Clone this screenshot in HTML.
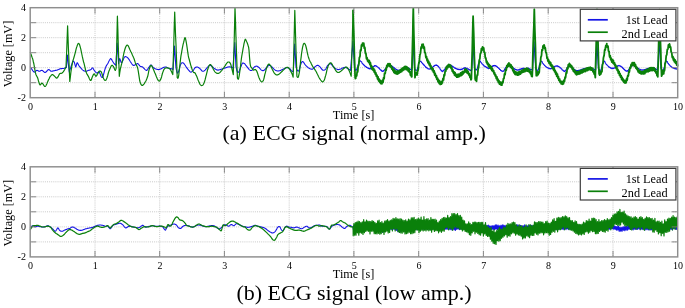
<!DOCTYPE html>
<html lang="en"><head><meta charset="utf-8"><title>ECG signal</title>
<style>html,body{margin:0;padding:0;background:#fff}svg{display:block}</style></head>
<body>
<svg width="685" height="308" viewBox="0 0 685 308" font-family="'Liberation Serif', serif" fill="#000">
<rect width="685" height="308" fill="#fff"/>
<path d="M30.2 22.7H677.7M30.2 37.7H677.7M30.2 52.7H677.7M30.2 67.7H677.7M30.2 82.7H677.7M95.0 7.7V97.7M159.7 7.7V97.7M224.4 7.7V97.7M289.2 7.7V97.7M353.9 7.7V97.7M418.7 7.7V97.7M483.4 7.7V97.7M548.2 7.7V97.7M613.0 7.7V97.7" stroke="#c4c4c4" stroke-width="0.9" stroke-dasharray="1 1.1" fill="none"/>
<g fill="none" stroke-linejoin="round" stroke-linecap="round">
<path d="M30.4 67.0L30.8 67.7L31.3 68.4L31.7 69.1L32.2 69.8L32.6 70.4L33.0 71.0L33.4 71.5L33.9 71.9L34.3 72.1L34.7 72.0L35.1 71.8L35.6 71.4L36.0 70.9L36.4 70.6L36.8 70.4L37.2 70.4L37.7 70.6L38.1 70.8L38.5 71.0L38.9 71.2L39.4 71.2L39.8 71.2L40.2 71.0L40.6 70.8L41.0 70.6L41.5 70.4L41.9 70.4L42.3 70.5L42.7 70.8L43.2 71.1L43.6 71.5L44.0 71.9L44.4 72.2L44.8 72.4L45.3 72.4L45.7 72.3L46.1 71.9L46.5 71.5L47.0 71.0L47.4 70.5L47.8 70.0L48.2 69.7L48.6 69.6L49.1 69.6L49.5 69.9L49.9 70.3L50.3 70.7L50.8 71.1L51.2 71.2L51.6 71.3L52.0 71.2L52.4 71.1L52.9 71.0L53.3 70.9L53.7 70.7L54.1 70.7L54.6 70.6L55.0 70.5L55.4 70.4L55.8 70.4L56.2 70.3L56.7 70.2L57.1 70.1L57.5 69.9L57.9 69.8L58.4 69.6L58.8 69.4L59.2 69.2L59.6 69.0L60.1 68.8L60.5 68.7L60.9 68.6L61.3 68.6L61.7 68.6L62.2 68.5L62.6 68.5L63.0 68.5L63.4 68.5L63.9 68.4L64.3 68.3L64.7 68.1L65.1 67.9L65.5 67.7L66.0 67.5L66.4 67.4L66.9 61.2L67.4 55.0L67.9 59.3L68.3 63.5L68.8 67.8L69.3 72.1L69.7 70.7L70.1 69.3L70.6 67.9L71.0 66.6L71.5 65.3L71.9 64.1L72.3 62.8L72.7 61.7L73.1 61.1L73.6 61.2L74.0 61.8L74.5 62.8L75.1 65.2L75.7 67.0L76.1 66.1L76.6 64.1L77.0 62.8L77.4 62.9L77.9 63.6L78.3 64.6L78.7 65.3L79.1 65.9L79.5 66.4L79.9 66.9L80.3 67.4L80.7 67.9L81.2 68.4L81.6 68.8L82.0 69.3L82.4 69.7L82.9 70.1L83.3 70.4L83.7 70.7L84.1 70.9L84.5 71.0L85.0 71.2L85.4 71.2L85.8 71.2L86.2 71.2L86.7 71.1L87.1 70.9L87.5 70.7L87.9 70.6L88.3 70.4L88.8 70.3L89.2 70.2L89.6 70.1L90.0 70.0L90.5 69.8L90.9 69.6L91.3 69.1L91.7 68.5L92.1 68.0L92.6 67.9L93.0 68.2L93.4 68.9L93.8 69.7L94.3 70.4L94.7 70.9L95.1 71.5L95.5 72.0L95.9 72.4L96.4 72.7L96.8 72.9L97.2 72.9L97.6 72.6L98.1 72.3L98.5 72.0L98.9 71.9L99.3 72.1L99.7 72.9L100.2 74.1L100.6 75.4L101.0 76.3L101.4 76.9L101.9 77.4L102.3 77.5L102.7 77.2L103.1 76.1L103.5 74.6L104.0 72.8L104.4 71.2L104.8 69.9L105.2 68.5L105.7 67.3L106.1 66.2L106.5 65.4L106.9 64.8L107.3 64.3L107.8 63.6L108.2 62.8L108.6 61.9L109.0 61.0L109.5 60.3L109.9 59.5L110.4 58.8L110.8 58.6L111.2 58.9L111.7 59.6L112.1 60.4L112.5 61.1L112.9 61.8L113.3 62.4L113.8 63.1L114.2 63.6L114.6 64.1L115.0 64.5L115.5 64.9L115.9 65.3L116.3 57.9L116.8 50.4L117.2 43.0L117.7 49.9L118.1 56.8L118.6 63.6L119.1 60.6L119.6 58.6L120.0 58.9L120.4 60.3L120.9 61.9L121.3 62.8L121.7 62.7L122.1 62.0L122.6 61.1L123.0 60.3L123.4 59.4L123.8 58.4L124.2 57.5L124.7 56.9L125.1 56.6L125.5 56.6L125.9 56.7L126.4 56.9L126.8 57.1L127.2 57.4L127.6 57.7L128.0 58.1L128.4 58.6L128.8 59.2L129.3 59.8L129.7 60.6L130.1 61.3L130.6 62.0L131.0 62.6L131.4 63.3L131.8 63.9L132.3 64.5L132.7 65.0L133.1 65.3L133.5 65.4L134.0 65.4L134.4 65.2L134.8 64.9L135.2 64.7L135.6 64.5L136.1 64.3L136.5 64.0L137.0 63.8L137.4 63.6L137.8 63.6L138.3 64.0L138.7 64.5L139.2 65.1L139.6 65.7L140.1 66.2L140.5 66.4L140.9 66.6L141.3 66.6L141.8 66.7L142.2 66.8L142.6 67.0L143.0 67.4L143.4 67.8L143.9 68.3L144.3 68.7L144.7 69.2L145.1 69.6L145.6 69.9L146.0 70.2L146.4 70.5L146.8 70.4L147.2 70.0L147.7 69.3L148.1 68.5L148.5 67.9L148.9 67.3L149.4 66.6L149.8 66.0L150.2 65.5L150.6 65.1L151.0 65.0L151.5 65.3L151.9 65.8L152.3 66.5L152.7 67.0L153.2 67.4L153.6 67.7L154.0 68.0L154.4 68.3L154.8 68.5L155.3 68.7L155.7 68.9L156.1 69.1L156.5 69.2L157.0 69.3L157.4 69.5L157.8 69.5L158.2 69.6L158.6 69.6L159.1 69.5L159.5 69.4L159.9 69.3L160.3 69.1L160.8 68.9L161.2 68.7L161.6 68.5L162.0 68.3L162.4 68.0L162.9 67.8L163.3 67.5L163.7 67.4L164.1 67.2L164.6 67.1L165.0 67.0L165.4 67.0L165.8 67.0L166.2 67.0L166.7 67.2L167.1 67.4L167.5 67.7L167.9 67.9L168.4 68.2L168.8 68.4L169.2 68.5L169.6 68.5L170.1 68.6L170.5 68.6L170.9 68.6L171.3 68.7L171.7 68.9L172.2 69.1L172.6 69.3L173.0 69.6L173.5 61.7L174.0 53.9L174.5 46.0L175.0 53.0L175.4 60.0L175.9 67.0L176.3 69.3L176.8 71.6L177.2 72.9L177.7 73.1L178.1 72.5L178.5 71.5L178.9 70.4L179.4 68.8L179.8 66.9L180.3 65.3L180.7 64.4L181.1 63.6L181.5 63.1L182.0 62.8L182.4 62.7L182.8 62.8L183.2 63.0L183.6 63.3L184.0 63.6L184.4 64.2L184.8 64.8L185.3 65.5L185.7 66.2L186.1 66.8L186.5 67.4L186.9 68.0L187.4 68.5L187.8 69.1L188.2 69.6L188.6 70.1L189.1 70.6L189.5 71.1L189.9 71.6L190.3 71.9L190.7 72.1L191.2 72.1L191.6 71.9L192.0 71.6L192.4 71.3L192.9 70.9L193.3 70.4L193.7 69.8L194.1 69.1L194.5 68.4L195.0 67.9L195.4 67.5L195.8 67.3L196.2 67.1L196.7 67.0L197.1 67.0L197.5 67.0L197.9 67.2L198.3 67.4L198.8 67.7L199.2 68.0L199.6 68.4L200.0 68.7L200.5 69.1L200.9 69.6L201.3 70.2L201.7 70.6L202.1 71.0L202.6 71.2L203.0 71.3L203.4 71.2L203.8 71.0L204.3 70.7L204.7 70.4L205.1 70.1L205.5 69.7L205.9 69.1L206.4 68.6L206.8 68.0L207.2 67.5L207.6 67.0L208.1 66.6L208.5 66.2L208.9 65.9L209.3 65.6L209.7 65.4L210.2 65.3L210.6 65.4L211.0 65.6L211.4 66.0L211.9 66.3L212.3 66.7L212.7 67.0L213.1 67.4L213.5 67.7L214.0 68.1L214.4 68.4L214.8 68.8L215.2 69.1L215.7 69.3L216.1 69.5L216.5 69.7L216.9 69.9L217.3 70.0L217.8 70.1L218.2 70.1L218.6 70.0L219.0 69.9L219.5 69.8L219.9 69.7L220.3 69.6L220.7 69.4L221.1 69.3L221.6 69.2L222.0 69.0L222.4 68.9L222.8 68.7L223.3 68.6L223.7 68.4L224.1 68.3L224.5 68.2L224.9 68.0L225.4 67.9L225.8 67.7L226.2 67.6L226.6 67.4L227.1 67.2L227.5 67.1L227.9 67.0L228.3 67.0L228.8 66.9L229.2 66.9L229.6 66.9L230.0 67.0L230.4 67.0L230.9 67.1L231.3 67.2L231.7 67.4L232.1 67.6L232.6 67.7L233.0 67.9L233.4 61.6L233.9 55.2L234.4 48.9L234.8 42.6L235.4 54.8L236.0 67.0L236.5 68.9L236.9 70.8L237.4 72.1L237.8 72.5L238.2 72.3L238.6 71.9L239.1 71.2L239.5 70.4L239.9 69.3L240.3 68.1L240.7 67.0L241.2 66.0L241.6 64.9L242.0 63.9L242.4 63.3L242.8 63.0L243.2 63.0L243.6 63.1L244.1 63.4L244.5 63.6L244.9 64.0L245.3 64.5L245.7 65.1L246.1 65.6L246.5 66.2L246.9 66.7L247.3 67.2L247.7 67.7L248.1 68.2L248.5 68.7L248.9 69.2L249.2 69.6L249.6 69.9L250.1 70.2L250.5 70.4L250.9 70.5L251.3 70.5L251.8 70.4L252.2 70.1L252.6 69.5L253.0 68.8L253.4 68.1L253.9 67.5L254.3 67.0L254.7 66.7L255.1 66.5L255.6 66.3L256.0 66.2L256.4 66.1L256.8 66.2L257.2 66.3L257.7 66.5L258.1 66.8L258.5 67.2L258.9 67.5L259.4 67.9L259.8 68.3L260.2 68.8L260.6 69.3L261.0 69.7L261.5 70.1L261.9 70.4L262.3 70.5L262.7 70.6L263.2 70.6L263.6 70.5L264.0 70.3L264.4 70.1L264.8 69.7L265.3 69.2L265.7 68.6L266.1 68.0L266.5 67.5L267.0 67.0L267.4 66.6L267.8 66.2L268.2 65.9L268.6 65.6L269.1 65.4L269.5 65.3L269.9 65.4L270.3 65.6L270.8 65.9L271.2 66.3L271.6 66.7L272.0 67.0L272.4 67.4L272.9 67.9L273.3 68.3L273.7 68.8L274.1 69.2L274.6 69.6L275.0 69.9L275.4 70.2L275.8 70.4L276.2 70.6L276.7 70.8L277.1 70.9L277.5 71.0L277.9 71.0L278.4 71.0L278.8 70.9L279.2 70.8L279.6 70.7L280.1 70.6L280.5 70.4L280.9 70.2L281.3 70.0L281.7 69.8L282.2 69.6L282.6 69.4L283.0 69.2L283.4 68.9L283.9 68.7L284.3 68.6L284.7 68.4L285.1 68.2L285.5 68.0L286.0 67.8L286.4 67.7L286.8 67.6L287.2 67.5L287.7 67.6L288.1 67.7L288.5 67.9L288.9 68.1L289.3 68.4L289.8 68.7L290.2 69.2L290.6 69.7L291.1 70.3L291.5 70.9L292.0 71.2L292.4 71.4L292.9 71.3L293.3 71.2L293.8 62.2L294.2 53.1L294.7 44.0L295.1 51.7L295.6 59.4L296.0 67.0L296.5 68.3L296.9 69.5L297.4 70.4L297.8 70.9L298.2 71.1L298.6 70.9L299.1 70.4L299.5 69.0L300.0 67.1L300.4 65.3L300.9 64.0L301.3 62.8L301.8 62.0L302.3 61.6L302.8 61.6L303.3 62.0L303.7 62.4L304.1 63.1L304.5 63.9L305.0 64.5L305.4 65.0L305.8 65.5L306.2 65.9L306.7 66.3L307.1 66.7L307.5 67.0L307.9 67.4L308.3 67.7L308.8 68.0L309.2 68.3L309.6 68.5L310.0 68.7L310.5 68.9L310.9 69.0L311.3 69.1L311.7 69.2L312.1 69.2L312.6 69.1L313.0 68.8L313.4 68.4L313.8 68.0L314.3 67.5L314.7 67.1L315.1 66.7L315.5 66.4L315.9 66.1L316.4 65.8L316.8 65.5L317.2 65.4L317.6 65.3L318.1 65.4L318.5 65.6L318.9 65.9L319.3 66.3L319.7 66.6L320.2 67.0L320.6 67.5L321.0 68.1L321.4 68.7L321.9 69.3L322.3 69.8L322.7 70.1L323.1 70.2L323.5 70.3L324.0 70.3L324.4 70.1L324.8 69.9L325.2 69.6L325.7 69.0L326.1 68.3L326.5 67.5L326.9 66.7L327.3 65.9L327.8 65.3L328.2 64.9L328.6 64.4L329.0 64.1L329.5 63.8L329.9 63.7L330.3 63.6L330.7 63.8L331.1 64.2L331.6 64.7L332.0 65.2L332.4 65.7L332.8 66.2L333.3 66.6L333.7 67.0L334.1 67.4L334.5 67.7L334.9 68.1L335.4 68.4L335.8 68.7L336.2 68.9L336.6 69.1L337.1 69.3L337.5 69.5L337.9 69.6L338.3 69.6L338.8 69.5L339.2 69.5L339.6 69.3L340.0 69.2L340.4 69.1L340.9 68.9L341.3 68.7L341.7 68.5L342.1 68.2L342.6 68.0L343.0 67.9L343.4 67.7L343.8 67.6L344.2 67.5L344.7 67.4L345.1 67.3L345.5 67.4L345.9 67.5L346.4 67.7L346.8 67.9L347.2 68.2L347.6 68.4L348.0 68.7L348.5 69.0L348.9 69.3L349.3 69.5L349.7 69.8L350.2 70.1L350.6 70.4L351.0 64.6L351.5 58.9L352.0 53.1L352.5 47.4L352.9 41.6L352.9 41.6L353.2 46.0L353.4 50.6L353.7 54.5L354.0 58.9L354.2 63.6L354.5 68.2L354.7 68.7L355.0 69.3L355.2 69.8L355.4 70.3L355.6 70.3L355.8 70.1L356.1 69.9L356.3 69.9L356.5 70.1L356.7 69.8L356.9 69.0L357.1 68.2L357.4 67.6L357.6 67.2L357.8 66.4L358.0 65.2L358.3 64.2L358.5 63.7L358.7 63.2L358.9 62.4L359.2 61.6L359.4 60.9L359.6 60.9L359.8 61.0L360.1 61.0L360.3 60.7L360.5 60.7L360.7 61.1L361.0 61.6L361.2 61.7L361.4 61.8L361.7 62.0L361.9 62.7L362.1 63.3L362.4 63.3L362.6 63.4L362.8 63.7L363.0 64.2L363.2 64.6L363.4 64.7L363.7 64.6L363.9 64.7L364.1 65.3L364.3 65.8L364.5 65.7L364.7 65.6L364.9 65.8L365.1 66.2L365.3 66.6L365.6 66.7L365.8 66.6L366.0 66.6L366.2 66.9L366.4 67.4L366.6 67.5L366.8 67.3L367.0 67.2L367.2 67.5L367.5 68.0L367.7 68.1L367.9 68.0L368.1 67.9L368.3 68.0L368.5 68.5L368.7 68.6L368.9 68.6L369.1 68.4L369.4 68.4L369.6 68.9L369.8 69.0L370.0 68.8L370.2 68.5L370.4 68.4L370.6 68.5L370.8 68.8L371.0 68.5L371.3 68.1L371.5 67.7L371.7 67.7L371.9 67.8L372.1 67.7L372.3 67.3L372.5 66.9L372.7 66.8L372.9 67.1L373.2 66.9L373.4 66.6L373.6 66.2L373.8 66.2L374.0 66.3L374.2 66.4L374.4 65.9L374.6 65.6L374.8 65.6L375.1 65.7L375.3 66.0L375.5 65.9L375.7 65.5L375.9 65.5L376.1 65.9L376.3 66.2L376.5 66.4L376.7 66.2L377.0 66.2L377.2 66.6L377.4 66.9L377.6 67.0L377.8 67.1L378.0 67.0L378.2 67.3L378.4 67.7L378.6 68.1L378.9 68.2L379.1 68.0L379.3 68.2L379.5 69.0L379.7 69.2L379.9 69.2L380.1 69.2L380.3 69.4L380.5 69.8L380.8 70.2L381.0 70.4L381.2 70.1L381.4 70.2L381.6 70.7L381.8 71.1L382.0 71.3L382.2 71.0L382.4 70.9L382.7 71.1L382.9 71.5L383.1 71.5L383.3 71.2L383.5 70.6L383.7 70.7L383.9 70.6L384.1 70.5L384.3 70.0L384.6 69.6L384.8 69.3L385.0 69.2L385.2 69.3L385.4 68.8L385.6 68.3L385.8 68.0L386.0 67.9L386.2 67.8L386.5 67.4L386.7 66.7L386.9 66.3L387.1 66.2L387.3 66.1L387.5 66.0L387.7 65.4L387.9 65.1L388.2 65.1L388.4 65.3L388.6 65.3L388.8 65.1L389.0 64.8L389.2 64.9L389.4 65.2L389.6 65.3L389.8 65.2L390.1 65.0L390.3 65.1L390.5 65.4L390.7 65.7L390.9 65.8L391.1 65.5L391.3 65.5L391.5 65.8L391.7 66.3L392.0 66.5L392.2 66.2L392.4 66.2L392.6 66.6L392.8 67.0L393.0 67.3L393.2 67.2L393.4 67.1L393.6 67.3L393.9 67.8L394.1 68.1L394.3 68.0L394.5 67.9L394.7 68.2L394.9 68.8L395.1 69.1L395.3 68.9L395.5 68.8L395.8 69.0L396.0 69.3L396.2 69.8L396.4 69.8L396.6 69.5L396.8 69.6L397.0 70.0L397.2 70.4L397.4 70.4L397.7 70.2L397.9 70.0L398.1 70.2L398.3 70.7L398.5 70.6L398.7 70.5L398.9 70.2L399.1 70.4L399.3 70.6L399.6 70.6L399.8 70.3L400.0 69.9L400.2 70.0L400.4 70.3L400.6 70.3L400.8 70.0L401.0 69.7L401.2 69.6L401.5 69.7L401.7 69.8L401.9 69.6L402.1 69.1L402.3 68.9L402.5 69.0L402.7 69.2L402.9 69.0L403.1 68.6L403.4 68.4L403.6 68.4L403.8 68.7L404.0 68.5L404.2 68.2L404.4 68.0L404.6 67.9L404.8 68.2L405.0 68.3L405.3 68.1L405.5 67.7L405.7 67.7L405.9 67.9L406.1 68.0L406.3 67.9L406.5 67.5L406.7 67.4L406.9 67.7L407.2 68.0L407.4 67.8L407.6 67.6L407.8 67.5L408.0 67.8L408.2 68.1L408.4 68.1L408.6 68.0L408.8 68.0L409.1 68.3L409.3 68.7L409.5 69.0L409.7 68.8L409.9 68.9L410.1 69.0L410.3 69.5L410.5 69.8L410.7 69.7L411.0 69.3L411.3 69.7L411.6 69.9L411.9 69.4L412.2 62.4L412.5 55.8L412.8 49.1L413.1 41.8L413.3 46.1L413.6 50.6L413.8 55.2L414.0 59.4L414.2 63.4L414.5 67.7L414.7 68.6L415.0 69.5L415.2 69.6L415.5 69.9L415.7 70.1L415.9 70.6L416.1 70.5L416.3 70.3L416.5 70.0L416.7 70.0L417.0 70.1L417.2 69.8L417.4 69.0L417.6 68.1L417.8 67.4L418.0 66.8L418.2 66.2L418.4 65.1L418.6 64.1L418.9 63.4L419.1 63.1L419.3 62.8L419.5 62.1L419.8 61.4L420.0 61.2L420.2 61.3L420.4 61.5L420.6 61.2L420.8 61.2L421.0 61.4L421.3 62.1L421.5 62.5L421.7 62.6L421.9 62.7L422.1 62.9L422.4 63.4L422.6 63.9L422.8 63.9L423.1 63.8L423.3 64.2L423.5 64.7L423.8 65.1L424.0 64.9L424.3 65.0L424.5 65.5L424.7 66.0L424.9 66.3L425.1 66.3L425.3 66.2L425.5 66.5L425.7 67.0L425.9 67.4L426.2 67.4L426.4 67.3L426.6 67.4L426.8 68.0L427.0 68.2L427.2 68.3L427.4 68.1L427.6 68.3L427.8 68.5L428.1 69.0L428.3 68.9L428.5 68.7L428.7 68.7L428.9 69.0L429.1 69.2L429.3 69.2L429.5 69.0L429.7 68.7L430.0 68.8L430.2 69.1L430.4 68.9L430.6 68.6L430.8 68.2L431.0 68.1L431.2 68.4L431.4 68.4L431.6 68.1L431.9 67.7L432.1 67.5L432.3 67.6L432.5 67.6L432.7 67.2L432.9 66.8L433.1 66.5L433.3 66.6L433.5 66.6L433.8 66.3L434.0 65.9L434.2 65.6L434.4 65.6L434.6 65.8L434.8 65.6L435.0 65.4L435.2 65.1L435.4 65.2L435.7 65.4L435.9 65.4L436.1 65.1L436.3 64.9L436.5 65.0L436.7 65.5L436.9 65.5L437.1 65.5L437.3 65.4L437.6 65.6L437.8 66.1L438.0 66.5L438.2 66.5L438.4 66.3L438.6 66.6L438.8 67.1L439.0 67.5L439.2 67.8L439.5 67.8L439.7 67.8L439.9 68.4L440.1 69.1L440.3 69.3L440.5 69.5L440.7 69.5L440.9 70.1L441.1 70.6L441.4 71.0L441.6 70.9L441.8 70.9L442.0 71.0L442.2 71.4L442.4 71.6L442.6 71.2L442.8 70.9L443.0 70.8L443.3 70.8L443.5 70.9L443.7 70.6L443.9 70.0L444.1 69.7L444.3 69.7L444.5 69.9L444.7 69.5L444.9 68.9L445.2 68.6L445.4 68.4L445.6 68.4L445.8 68.1L446.0 67.6L446.2 66.9L446.4 66.8L446.6 66.8L446.8 66.6L447.1 66.1L447.3 65.8L447.5 65.7L447.7 65.8L447.9 65.8L448.1 65.6L448.3 65.1L448.5 65.0L448.8 65.1L449.0 65.4L449.2 65.2L449.4 64.9L449.6 64.7L449.8 65.0L450.0 65.2L450.2 65.3L450.4 65.2L450.7 65.1L450.9 65.2L451.1 65.8L451.3 66.0L451.5 65.8L451.7 65.6L451.9 65.9L452.1 66.3L452.3 66.6L452.6 66.4L452.8 66.3L453.0 66.4L453.2 67.0L453.4 67.3L453.6 67.2L453.8 67.1L454.0 67.2L454.2 67.6L454.5 67.9L454.7 68.1L454.9 67.8L455.1 67.8L455.3 68.1L455.5 68.5L455.7 68.6L455.9 68.3L456.1 68.4L456.4 68.7L456.6 69.0L456.8 69.1L457.0 68.9L457.2 68.8L457.4 68.8L457.6 69.4L457.8 69.5L458.0 69.3L458.3 69.1L458.5 69.2L458.7 69.6L458.9 69.7L459.1 69.5L459.3 69.4L459.5 69.3L459.7 69.6L459.9 69.7L460.2 69.7L460.4 69.5L460.6 69.2L460.8 69.4L461.0 69.7L461.2 69.6L461.4 69.3L461.6 69.0L461.8 69.1L462.1 69.4L462.3 69.3L462.5 69.0L462.7 68.7L462.9 68.5L463.1 68.7L463.3 68.8L463.5 68.6L463.7 68.1L464.0 67.9L464.2 68.1L464.4 68.1L464.6 68.2L464.8 67.7L465.0 67.6L465.3 67.8L465.5 68.3L465.7 68.1L465.9 67.9L466.2 68.0L466.4 68.4L466.6 68.6L466.8 68.4L467.1 68.3L467.3 68.4L467.5 68.9L467.7 69.1L468.0 69.0L468.2 68.9L468.4 68.9L468.6 69.4L468.8 69.7L469.0 69.6L469.2 69.6L469.4 69.5L469.6 70.0L469.9 70.1L470.1 70.3L470.3 70.0L470.5 70.0L470.7 70.2L470.9 70.6L471.1 70.5L471.3 70.2L471.5 70.1L471.8 70.2L472.1 63.9L472.3 56.8L472.6 49.5L472.9 43.0L473.2 47.5L473.4 51.4L473.7 55.2L474.0 59.5L474.2 63.9L474.5 68.1L474.7 68.3L475.0 68.6L475.2 69.3L475.5 69.8L475.7 69.6L475.9 69.5L476.1 69.6L476.3 69.9L476.5 69.9L476.7 69.6L477.0 68.9L477.2 68.4L477.4 68.0L477.6 67.5L477.8 66.3L478.1 65.0L478.3 64.3L478.5 63.8L478.7 63.3L479.0 62.4L479.2 61.7L479.4 61.3L479.6 61.5L479.9 61.4L480.1 61.2L480.3 61.1L480.5 61.6L480.8 62.2L481.0 62.6L481.2 62.7L481.5 62.8L481.7 63.3L481.9 63.8L482.2 64.0L482.4 64.1L482.6 64.2L482.9 64.6L483.1 65.1L483.3 65.2L483.6 65.1L483.8 65.4L484.0 65.8L484.2 66.2L484.4 66.0L484.6 66.0L484.8 66.0L485.1 66.6L485.3 66.8L485.5 66.8L485.7 66.6L485.9 66.7L486.1 67.0L486.3 67.5L486.5 67.6L486.7 67.3L487.0 67.3L487.2 67.6L487.4 68.1L487.6 68.2L487.8 68.1L488.0 67.9L488.2 68.2L488.4 68.5L488.6 68.7L488.9 68.5L489.1 68.0L489.3 68.0L489.5 68.2L489.7 68.2L489.9 68.1L490.1 67.5L490.3 67.3L490.5 67.4L490.8 67.5L491.0 67.3L491.2 66.9L491.4 66.7L491.6 66.8L491.8 66.9L492.0 66.7L492.2 66.4L492.4 65.9L492.7 66.1L492.9 66.3L493.1 66.1L493.3 65.7L493.5 65.5L493.7 65.5L493.9 65.8L494.1 65.9L494.3 65.8L494.6 65.5L494.8 65.4L495.0 65.7L495.2 66.0L495.4 65.9L495.6 65.7L495.8 65.6L496.0 66.2L496.2 66.5L496.5 66.5L496.7 66.3L496.9 66.3L497.1 66.7L497.3 67.1L497.5 67.4L497.7 67.3L497.9 67.3L498.2 67.6L498.4 68.2L498.6 68.4L498.8 68.4L499.0 68.3L499.2 68.6L499.4 69.1L499.6 69.4L499.8 69.4L500.1 69.5L500.3 69.6L500.5 70.1L500.7 70.5L500.9 70.6L501.1 70.5L501.3 70.5L501.5 70.9L501.8 71.2L502.0 71.3L502.2 71.0L502.4 71.1L502.6 71.4L502.9 71.6L503.1 71.5L503.3 71.1L503.5 70.9L503.7 71.0L503.9 71.0L504.1 70.7L504.3 70.1L504.5 69.4L504.7 69.1L504.9 69.0L505.1 68.8L505.3 68.3L505.5 67.7L505.8 67.4L506.0 67.3L506.2 67.3L506.4 66.9L506.6 66.3L506.8 66.0L507.0 66.2L507.2 66.1L507.4 65.9L507.7 65.5L507.9 65.1L508.1 65.3L508.3 65.5L508.5 65.4L508.7 65.3L508.9 65.1L509.1 65.4L509.3 65.6L509.6 65.9L509.8 65.8L510.0 65.6L510.2 65.7L510.4 66.2L510.6 66.4L510.8 66.4L511.0 66.2L511.2 66.4L511.5 66.8L511.7 67.1L511.9 67.2L512.1 66.9L512.3 67.0L512.5 67.5L512.7 67.8L512.9 67.9L513.1 67.8L513.4 67.7L513.6 68.0L513.8 68.5L514.0 68.7L514.2 68.5L514.4 68.5L514.6 68.9L514.8 69.3L515.0 69.6L515.3 69.3L515.5 69.3L515.7 69.3L515.9 69.6L516.1 70.0L516.3 69.9L516.5 69.6L516.7 69.8L516.9 70.1L517.2 70.3L517.4 70.3L517.6 69.9L517.8 69.8L518.0 70.0L518.2 70.3L518.4 70.2L518.6 70.0L518.8 69.6L519.1 69.7L519.3 69.9L519.5 69.9L519.7 69.5L519.9 69.1L520.1 69.2L520.3 69.3L520.5 69.4L520.7 69.2L521.0 68.9L521.2 68.6L521.4 68.9L521.6 69.1L521.8 68.8L522.0 68.4L522.2 68.3L522.4 68.6L522.6 68.7L522.9 68.6L523.1 68.3L523.3 68.1L523.5 68.2L523.7 68.6L523.9 68.7L524.1 68.3L524.3 68.3L524.5 68.4L524.8 68.7L525.0 68.8L525.2 68.7L525.4 68.5L525.6 68.4L525.8 69.0L526.0 69.0L526.2 68.7L526.4 68.5L526.7 68.4L526.9 68.6L527.1 68.8L527.3 68.5L527.5 68.2L527.7 68.1L527.9 68.4L528.1 68.7L528.3 68.5L528.6 68.4L528.8 68.2L529.0 68.6L529.2 68.9L529.4 69.1L529.6 68.8L529.8 68.8L530.0 69.0L530.2 69.4L530.5 69.6L530.7 69.5L530.9 69.3L531.1 69.4L531.3 69.7L531.5 70.0L531.7 69.9L531.9 69.6L532.1 69.7L532.4 70.1L532.6 70.4L532.8 65.5L533.1 60.6L533.3 55.9L533.6 51.5L533.8 46.8L534.1 41.8L534.3 46.2L534.6 50.9L534.8 55.5L535.1 59.6L535.4 63.8L535.6 68.3L535.8 69.0L536.1 69.3L536.3 69.4L536.5 69.7L536.7 70.1L537.0 70.6L537.2 70.5L537.4 70.3L537.6 70.0L537.8 70.1L538.0 70.1L538.2 69.9L538.4 69.0L538.6 68.5L538.9 67.7L539.1 67.1L539.3 66.0L539.5 64.4L539.8 63.5L540.0 62.8L540.2 62.6L540.5 61.9L540.7 61.4L540.9 61.0L541.1 61.3L541.4 61.3L541.6 61.4L541.8 61.3L542.0 61.5L542.2 62.1L542.4 62.8L542.6 63.1L542.8 63.3L543.0 63.4L543.3 63.9L543.5 64.4L543.8 64.6L544.0 64.6L544.2 64.8L544.5 65.4L544.7 65.7L544.9 65.8L545.2 65.7L545.4 66.1L545.6 66.6L545.9 66.7L546.1 66.8L546.4 66.7L546.6 67.0L546.8 67.6L547.1 67.5L547.3 67.5L547.5 67.5L547.8 68.0L548.0 68.2L548.2 68.2L548.4 67.9L548.6 68.1L548.8 68.3L549.0 68.7L549.2 68.6L549.5 68.5L549.7 68.4L549.9 68.7L550.1 68.9L550.3 69.0L550.5 68.6L550.7 68.4L550.9 68.5L551.1 68.7L551.4 68.8L551.6 68.5L551.8 68.2L552.0 68.1L552.2 68.3L552.4 68.4L552.6 68.0L552.8 67.6L553.0 67.5L553.3 67.8L553.5 67.8L553.7 67.5L553.9 67.0L554.1 66.7L554.3 66.9L554.5 67.0L554.7 66.7L554.9 66.3L555.2 66.1L555.4 66.1L555.6 66.3L555.8 66.3L556.0 66.0L556.2 65.7L556.4 65.8L556.6 66.1L556.8 66.3L557.1 66.1L557.3 65.7L557.5 65.8L557.7 66.3L557.9 66.4L558.1 66.4L558.3 66.2L558.5 66.3L558.8 66.8L559.0 67.0L559.2 67.0L559.4 66.8L559.6 67.0L559.8 67.2L560.0 67.7L560.2 68.0L560.4 67.7L560.7 67.8L560.9 68.1L561.1 68.7L561.3 68.9L561.5 68.9L561.7 68.9L561.9 69.2L562.1 69.8L562.3 70.1L562.6 70.2L562.8 70.0L563.0 70.2L563.2 70.6L563.4 71.0L563.6 71.1L563.8 70.9L564.0 70.8L564.2 71.2L564.4 71.5L564.6 71.6L564.8 71.2L565.0 70.9L565.2 70.8L565.4 71.0L565.7 70.8L565.9 70.1L566.1 69.5L566.3 69.2L566.5 69.1L566.8 68.8L567.0 68.2L567.2 67.6L567.4 67.3L567.6 67.6L567.9 67.2L568.1 66.7L568.3 66.2L568.5 66.0L568.7 66.0L569.0 65.9L569.2 65.5L569.4 65.1L569.7 65.2L570.0 65.7L570.2 65.5L570.4 65.3L570.6 65.5L570.8 65.8L571.0 66.2L571.2 66.5L571.4 66.3L571.6 66.3L571.8 66.7L572.0 67.1L572.2 67.5L572.5 67.6L572.7 67.6L572.9 68.0L573.1 68.5L573.3 68.8L573.6 68.8L573.8 68.9L574.0 69.3L574.2 69.7L574.4 70.1L574.6 70.0L574.9 69.7L575.1 70.0L575.3 70.2L575.5 70.6L575.7 70.5L575.9 70.3L576.1 70.3L576.3 70.7L576.5 70.9L576.8 70.9L577.0 70.7L577.2 70.5L577.4 70.7L577.6 71.0L577.8 70.9L578.0 70.7L578.2 70.4L578.4 70.4L578.7 70.7L578.9 70.7L579.1 70.5L579.3 70.1L579.5 70.2L579.7 70.4L579.9 70.6L580.1 70.3L580.3 69.9L580.6 69.9L580.8 70.0L581.0 70.1L581.2 69.9L581.4 69.6L581.6 69.3L581.8 69.5L582.0 69.6L582.2 69.6L582.5 69.2L582.7 69.1L582.9 69.0L583.1 69.4L583.3 69.3L583.5 68.9L583.7 68.6L583.9 68.6L584.1 68.9L584.4 68.9L584.6 68.6L584.8 68.4L585.0 68.3L585.2 68.7L585.4 68.8L585.6 68.6L585.8 68.2L586.0 68.3L586.3 68.4L586.5 68.7L586.7 68.6L586.9 68.1L587.1 68.1L587.3 68.2L587.5 68.5L587.7 68.3L587.9 68.0L588.2 67.8L588.4 67.9L588.6 68.2L588.8 68.1L589.0 67.8L589.2 67.7L589.4 67.7L589.6 68.0L589.8 68.2L590.1 67.9L590.3 67.7L590.5 67.8L590.7 68.0L590.9 68.3L591.1 68.3L591.3 67.9L591.5 68.0L591.7 68.4L592.0 68.7L592.2 68.6L592.4 68.4L592.6 68.4L592.8 68.6L593.0 69.0L593.2 69.2L593.4 69.0L593.6 68.9L593.9 69.2L594.1 69.6L594.3 69.6L594.5 69.6L594.8 69.5L595.1 70.0L595.4 70.2L595.7 70.0L596.0 62.8L596.3 56.2L596.6 49.3L596.9 41.8L597.1 46.2L597.4 51.0L597.6 55.4L597.9 59.5L598.1 63.7L598.4 68.6L598.6 69.1L598.8 69.3L599.1 69.3L599.3 69.8L599.5 70.3L599.7 70.7L599.9 70.4L600.2 70.2L600.4 70.2L600.6 70.2L600.8 70.1L601.0 69.8L601.2 68.9L601.4 68.5L601.6 67.8L601.9 67.1L602.1 65.9L602.3 64.5L602.5 63.5L602.8 62.8L603.0 62.5L603.2 61.8L603.4 61.3L603.7 61.1L603.9 61.2L604.1 61.3L604.3 61.4L604.5 61.2L604.8 61.5L605.0 62.2L605.2 62.8L605.4 63.1L605.6 63.2L605.8 63.4L606.0 64.0L606.3 64.5L606.5 64.6L606.8 64.6L607.0 64.9L607.2 65.4L607.5 65.7L607.7 65.7L607.9 65.7L608.2 66.2L608.4 66.6L608.6 66.9L608.9 66.6L609.1 66.8L609.4 67.2L609.6 67.5L609.8 67.6L610.1 67.4L610.3 67.5L610.5 68.1L610.8 68.3L611.0 68.1L611.2 67.9L611.4 68.1L611.6 68.3L611.8 68.6L612.0 68.5L612.2 68.1L612.4 68.2L612.7 68.4L612.9 68.6L613.1 68.5L613.3 68.2L613.5 68.0L613.7 68.2L613.9 68.4L614.1 68.2L614.3 67.9L614.6 67.7L614.8 67.7L615.0 68.0L615.2 67.9L615.4 67.5L615.6 67.1L615.8 67.0L616.0 67.2L616.2 67.2L616.5 66.9L616.7 66.4L616.9 66.2L617.1 66.3L617.3 66.4L617.5 66.0L617.7 65.7L617.9 65.6L618.1 65.8L618.4 65.9L618.6 65.7L618.8 65.5L619.0 65.3L619.2 65.7L619.4 65.9L619.6 66.0L619.8 65.7L620.0 65.7L620.3 65.9L620.5 66.3L620.7 66.5L620.9 66.3L621.1 66.3L621.3 66.4L621.5 66.8L621.7 67.2L621.9 67.1L622.2 67.0L622.4 67.3L622.6 67.8L622.8 68.3L623.0 68.4L623.2 68.2L623.4 68.3L623.6 68.7L623.8 69.3L624.1 69.5L624.3 69.3L624.5 69.5L624.7 69.8L624.9 70.4L625.1 70.5L625.3 70.4L625.5 70.3L625.7 70.7L625.9 71.1L626.1 71.2L626.4 71.0L626.6 70.8L626.8 70.8L627.0 71.1L627.2 71.3L627.4 71.0L627.6 70.7L627.8 70.5L628.0 70.5L628.2 70.6L628.4 70.2L628.6 69.7L628.9 69.2L629.1 69.1L629.3 69.0L629.5 68.7L629.7 68.0L630.0 67.6L630.2 67.6L630.4 67.6L630.6 67.3L630.8 66.9L631.0 66.4L631.2 66.2L631.4 66.3L631.7 66.1L631.9 65.8L632.1 65.3L632.3 65.4L632.5 65.3L632.7 65.6L632.9 65.4L633.1 65.1L633.3 65.0L633.6 65.5L633.8 65.7L634.0 65.7L634.2 65.6L634.4 65.6L634.6 66.0L634.8 66.3L635.0 66.4L635.2 66.3L635.5 66.2L635.7 66.5L635.9 66.9L636.1 67.1L636.3 67.0L636.5 66.9L636.7 67.2L636.9 67.6L637.1 67.8L637.4 67.7L637.6 67.7L637.8 67.9L638.0 68.2L638.2 68.6L638.4 68.6L638.6 68.5L638.8 68.5L639.0 69.0L639.3 69.3L639.5 69.3L639.7 69.3L639.9 69.2L640.1 69.4L640.3 69.9L640.5 70.0L640.7 69.8L640.9 69.6L641.2 69.8L641.4 70.2L641.6 70.2L641.8 70.0L642.0 69.8L642.2 69.8L642.4 70.2L642.6 70.3L642.8 70.1L643.1 69.8L643.3 69.9L643.5 70.0L643.7 70.2L643.9 70.1L644.1 69.7L644.3 69.5L644.5 69.7L644.7 70.0L645.0 69.7L645.2 69.4L645.4 69.3L645.6 69.4L645.8 69.6L646.0 69.5L646.2 69.2L646.4 68.9L646.6 69.0L646.9 69.1L647.1 69.2L647.3 68.7L647.5 68.5L647.7 68.4L647.9 68.7L648.1 68.9L648.3 68.7L648.5 68.4L648.8 68.4L649.0 68.5L649.2 68.7L649.4 68.7L649.6 68.3L649.8 68.2L650.0 68.3L650.2 68.6L650.4 68.6L650.7 68.1L650.9 68.0L651.1 68.1L651.3 68.3L651.5 68.3L651.7 68.0L651.9 67.7L652.1 67.8L652.3 68.0L652.6 68.1L652.8 67.9L653.0 67.6L653.2 67.7L653.4 68.1L653.6 68.4L653.8 68.1L654.0 68.0L654.2 68.0L654.5 68.4L654.7 68.7L654.9 68.6L655.1 68.5L655.3 68.4L655.5 68.9L655.7 69.1L656.0 69.2L656.2 69.0L656.4 69.2L656.6 69.5L656.8 69.9L657.1 69.9L657.3 69.8L657.5 69.8L657.7 66.6L658.0 63.4L658.2 59.7L658.4 55.8L658.7 52.3L658.9 49.2L659.1 45.8L659.4 42.0L659.6 46.2L659.9 50.8L660.1 55.5L660.4 59.8L660.6 63.8L660.9 68.2L661.1 68.9L661.3 69.4L661.6 69.5L661.8 69.8L662.0 70.0L662.2 70.5L662.4 70.6L662.7 70.5L662.9 70.0L663.1 70.0L663.3 70.0L663.5 69.9L663.7 69.3L663.9 68.5L664.1 67.6L664.4 67.0L664.6 66.0L664.8 64.7L665.0 63.5L665.3 62.6L665.5 62.4L665.7 62.0L665.9 61.5L666.2 61.0L666.4 61.0L666.6 61.2L666.8 61.6L667.0 61.5L667.3 61.5L667.5 61.9L667.7 62.7L667.9 63.2L668.1 63.5L668.3 63.5L668.5 63.6L668.8 64.4L669.0 64.7L669.3 64.8L669.5 64.7L669.7 65.2L670.0 65.7L670.2 66.1L670.4 65.9L670.7 66.0L670.9 66.5L671.1 66.8L671.4 66.9L671.6 66.8L671.9 66.9L672.1 67.4L672.3 67.7L672.6 67.7L672.8 67.5L673.0 67.7L673.3 68.2L673.5 68.3L673.7 68.1L673.9 68.0L674.1 68.1L674.3 68.4L674.5 68.7L674.7 68.6L674.9 68.4L675.2 68.4L675.4 68.7L675.6 69.0L675.8 69.0L676.0 68.6L676.2 68.6L676.4 68.9L676.6 69.1L676.8 69.2L677.0 68.9L677.2 68.8L677.4 68.8L677.6 69.2" stroke="#1414e6" stroke-width="1.1"/>
<path d="M30.4 52.5L30.8 53.8L31.3 55.0L31.7 56.2L32.1 57.4L32.6 58.7L33.0 60.2L33.4 62.0L33.9 64.0L34.3 66.3L34.7 68.8L35.1 71.1L35.5 72.9L35.9 74.4L36.4 75.4L36.8 76.2L37.2 77.0L37.7 78.0L38.1 79.4L38.5 81.0L39.0 82.6L39.4 83.9L39.9 84.8L40.3 84.9L40.7 84.5L41.1 83.9L41.5 83.3L41.9 83.1L42.3 83.3L42.7 83.7L43.2 84.3L43.6 85.0L44.0 85.7L44.4 86.2L44.8 86.5L45.3 86.5L45.7 86.0L46.1 85.3L46.5 84.4L47.0 83.4L47.4 82.3L47.8 81.4L48.2 80.5L48.6 79.6L49.1 78.7L49.5 77.8L49.9 77.0L50.3 76.3L50.8 75.8L51.2 75.3L51.7 74.9L52.1 74.7L52.5 74.6L52.9 74.8L53.3 75.1L53.8 75.5L54.2 75.9L54.6 76.3L55.0 76.7L55.4 77.1L55.8 77.6L56.2 77.9L56.7 78.1L57.1 78.0L57.5 77.6L57.9 76.9L58.4 76.1L58.8 75.2L59.2 74.4L59.6 73.8L60.1 73.5L60.5 73.3L60.9 73.3L61.3 73.3L61.7 73.2L62.2 72.9L62.6 72.5L63.0 72.1L63.4 71.5L63.9 70.9L64.3 70.2L64.7 69.6L65.1 68.8L65.6 67.9L66.0 67.0L66.6 53.3L67.1 39.5L67.6 25.8L68.0 36.9L68.4 48.0L68.9 59.2L69.3 70.3L69.8 81.4L70.4 76.6L70.9 72.1L71.4 69.0L71.8 66.1L72.3 63.6L72.7 61.7L73.1 60.1L73.6 58.6L74.0 57.3L74.4 55.9L74.8 54.4L75.3 52.6L75.7 50.8L76.1 49.1L76.5 47.6L77.0 46.3L77.4 45.1L77.8 44.1L78.3 43.5L78.7 43.4L79.1 43.8L79.6 44.8L80.0 46.1L80.4 47.6L80.8 49.2L81.2 51.1L81.6 53.0L82.0 55.0L82.4 56.9L82.8 58.6L83.2 60.3L83.6 62.0L84.1 63.7L84.5 65.3L84.9 67.1L85.3 69.0L85.7 70.7L86.1 72.1L86.6 73.2L87.0 74.1L87.5 74.9L87.9 75.6L88.3 76.3L88.8 77.2L89.2 78.2L89.6 79.1L90.0 79.9L90.5 80.5L90.9 80.5L91.3 79.9L91.7 78.8L92.1 77.4L92.6 76.3L93.0 75.4L93.4 74.6L93.8 74.0L94.3 73.8L94.7 74.2L95.1 75.1L95.5 75.9L95.9 76.3L96.4 76.0L96.8 75.4L97.2 74.5L97.6 73.8L98.1 73.1L98.5 72.3L98.9 71.7L99.3 71.2L99.7 71.1L100.1 71.1L100.5 71.2L100.9 71.5L101.4 72.1L101.8 73.1L102.2 74.5L102.6 76.0L103.0 77.2L103.5 78.2L103.9 79.1L104.4 79.8L104.8 80.3L105.2 80.5L105.7 80.3L106.1 79.8L106.5 79.0L106.9 78.0L107.3 76.7L107.8 75.2L108.2 73.5L108.6 72.1L109.0 70.9L109.5 69.8L109.9 68.8L110.3 67.9L110.7 67.0L111.1 66.2L111.6 65.6L112.0 65.3L112.4 65.4L112.8 65.8L113.3 66.4L113.7 67.0L114.1 68.0L114.5 69.1L114.9 70.1L115.4 70.4L115.8 69.4L116.2 67.9L116.8 42.0L117.4 16.2L117.9 31.2L118.3 46.3L118.8 61.3L119.3 76.3L119.8 72.3L120.4 68.7L120.9 66.8L121.3 65.2L121.7 63.7L122.1 62.0L122.6 59.9L123.0 57.7L123.4 55.5L123.8 53.5L124.2 51.9L124.6 50.3L125.0 49.0L125.4 47.8L125.8 46.8L126.3 45.9L126.7 45.4L127.1 45.1L127.5 45.1L128.0 45.5L128.4 46.3L128.9 47.3L129.3 48.3L129.7 49.3L130.1 50.1L130.5 50.9L130.9 51.8L131.4 52.6L131.8 53.5L132.2 54.5L132.6 55.4L133.1 56.4L133.5 57.5L134.0 58.6L134.4 59.8L134.8 61.1L135.2 62.4L135.6 63.6L136.1 64.6L136.5 65.4L137.0 66.1L137.4 67.2L137.8 68.7L138.3 71.3L138.8 74.6L139.3 77.9L139.7 80.5L140.1 82.1L140.5 83.3L140.9 84.2L141.4 84.9L141.8 85.3L142.2 85.4L142.6 85.4L143.0 85.1L143.4 84.7L143.9 84.2L144.3 83.6L144.7 82.9L145.1 82.2L145.6 81.5L146.0 80.7L146.4 79.8L146.8 78.8L147.2 77.7L147.7 76.3L148.1 74.6L148.5 72.5L148.9 70.4L149.4 68.7L149.8 67.4L150.2 66.4L150.6 65.7L151.0 65.3L151.5 65.5L151.9 66.1L152.3 67.0L152.7 67.9L153.2 68.7L153.6 69.7L154.0 70.7L154.4 71.7L154.8 72.8L155.3 73.8L155.7 74.8L156.1 75.9L156.5 77.0L157.0 78.0L157.4 78.9L157.8 79.7L158.2 80.3L158.6 80.8L159.1 81.1L159.5 81.0L159.9 80.7L160.3 80.0L160.8 79.1L161.2 78.0L161.6 76.7L162.0 75.1L162.4 73.5L162.9 72.1L163.3 71.0L163.7 70.1L164.1 69.3L164.6 68.7L165.0 68.3L165.4 68.1L165.8 68.0L166.2 67.9L166.7 67.8L167.1 67.8L167.5 67.8L167.9 67.9L168.4 68.0L168.8 68.1L169.2 68.4L169.6 68.7L170.1 69.2L170.5 69.8L170.9 70.5L171.3 71.2L171.8 72.3L172.3 73.5L172.8 74.6L173.3 59.0L173.8 43.4L174.2 27.7L174.7 12.1L175.1 23.0L175.5 33.9L176.0 44.8L176.4 55.7L176.8 66.6L177.2 77.5L177.7 78.3L178.2 78.0L178.8 74.8L179.3 70.4L179.7 66.5L180.2 62.3L180.6 58.6L181.0 55.7L181.5 53.1L181.9 50.7L182.3 48.4L182.7 46.3L183.1 44.4L183.6 42.5L184.0 40.8L184.5 38.7L185.0 37.5L185.5 38.6L186.0 40.8L186.5 43.6L187.0 46.8L187.6 51.1L188.2 55.2L188.6 57.3L189.1 59.0L189.5 60.5L189.9 62.0L190.3 63.5L190.7 65.1L191.2 66.5L191.6 67.9L192.0 69.1L192.4 70.3L192.9 71.3L193.3 72.1L193.7 72.5L194.1 72.6L194.5 72.6L195.0 72.9L195.4 73.6L195.8 74.4L196.2 75.4L196.7 76.3L197.1 77.3L197.5 78.4L197.9 79.5L198.3 80.5L198.8 81.6L199.2 82.6L199.6 83.5L200.0 84.3L200.5 84.8L200.9 85.2L201.3 85.5L201.7 85.6L202.1 85.5L202.6 85.3L203.0 84.9L203.4 84.3L203.8 83.4L204.3 82.3L204.7 81.1L205.1 79.7L205.5 78.1L205.9 76.4L206.4 74.6L206.8 72.9L207.2 71.3L207.6 69.7L208.1 68.2L208.5 67.0L208.9 66.1L209.3 65.3L209.7 64.8L210.2 64.5L210.6 64.6L211.0 65.0L211.4 65.5L211.9 66.2L212.3 66.9L212.7 67.8L213.1 68.7L213.5 69.6L214.0 70.3L214.4 71.0L214.8 71.6L215.2 72.1L215.7 72.5L216.1 72.8L216.5 73.1L216.9 73.3L217.3 73.4L217.8 73.4L218.2 73.4L218.6 73.3L219.0 73.1L219.5 72.8L219.9 72.5L220.3 72.1L220.7 71.7L221.1 71.1L221.6 70.6L222.0 70.1L222.4 69.5L222.8 69.0L223.3 68.4L223.7 67.9L224.1 67.3L224.5 66.6L224.9 66.0L225.4 65.3L225.8 64.7L226.2 64.0L226.6 63.3L227.1 62.8L227.5 62.4L227.9 62.1L228.3 62.0L228.8 62.0L229.2 62.1L229.6 62.4L230.0 62.9L230.4 63.6L230.9 64.8L231.3 66.3L231.7 67.9L232.1 69.6L232.7 72.0L233.3 74.6L233.7 57.7L234.2 40.8L234.6 23.9L235.0 7.7L235.5 21.2L235.9 35.4L236.4 49.6L236.9 63.8L237.4 78.0L237.9 79.0L238.4 79.2L238.8 77.6L239.3 75.1L239.7 72.1L240.2 69.0L240.6 65.4L241.0 61.8L241.4 58.6L241.8 55.8L242.3 53.2L242.7 50.8L243.1 48.4L243.6 46.0L244.0 43.7L244.5 41.7L244.9 40.1L245.3 39.2L245.9 39.9L246.5 41.4L247.1 42.6L247.7 44.2L248.1 45.6L248.6 47.2L249.0 50.1L249.5 57.0L250.1 63.6L250.5 66.0L250.9 67.0L251.3 67.4L251.8 67.9L252.2 68.6L252.6 69.3L253.0 69.8L253.4 70.1L253.9 70.1L254.3 69.8L254.7 69.6L255.1 69.6L255.6 69.7L256.0 70.1L256.4 70.5L256.8 71.2L257.2 72.3L257.7 73.6L258.1 75.1L258.5 76.3L258.9 77.4L259.4 78.5L259.8 79.4L260.2 80.2L260.6 80.9L261.0 81.4L261.5 81.8L261.9 81.9L262.3 81.7L262.7 81.3L263.2 80.7L263.6 79.7L264.0 78.3L264.4 76.5L264.8 74.7L265.3 72.9L265.7 71.3L266.1 69.7L266.5 68.3L267.0 67.0L267.4 66.0L267.8 65.1L268.2 64.5L268.6 64.2L269.1 64.1L269.5 64.4L269.9 64.8L270.3 65.3L270.8 66.0L271.2 66.9L271.6 67.8L272.0 68.7L272.4 69.6L272.9 70.5L273.3 71.3L273.7 72.1L274.1 72.8L274.6 73.4L275.0 73.9L275.4 74.3L275.8 74.6L276.2 74.8L276.7 74.9L277.1 75.0L277.5 74.9L277.9 74.8L278.4 74.5L278.8 74.3L279.2 74.0L279.6 73.7L280.1 73.3L280.5 72.9L280.9 72.5L281.3 72.1L281.7 71.7L282.2 71.3L282.6 70.8L283.0 70.4L283.4 70.0L283.9 69.6L284.3 69.2L284.7 68.8L285.1 68.4L285.5 68.0L286.0 67.7L286.4 67.5L286.8 67.4L287.3 67.4L287.7 67.4L288.1 67.6L288.6 67.9L289.0 68.3L289.4 68.9L289.8 69.7L290.3 70.4L290.7 71.2L291.1 72.0L291.5 72.8L292.0 73.8L292.6 75.4L293.1 77.2L293.6 60.5L294.0 43.8L294.4 27.1L294.8 10.4L295.2 23.6L295.6 36.8L296.0 50.0L296.5 63.1L296.9 76.3L297.4 77.3L298.0 77.5L298.5 76.4L298.9 74.6L299.4 72.1L299.8 68.6L300.3 64.3L300.7 60.3L301.2 56.6L301.6 53.1L302.1 50.1L302.5 47.7L303.0 45.7L303.4 44.2L304.0 43.4L304.5 43.4L304.9 43.8L305.4 44.7L305.8 45.9L306.2 47.5L306.7 49.5L307.1 51.6L307.5 53.5L307.9 55.2L308.3 56.7L308.8 58.2L309.2 59.4L309.6 60.4L310.0 61.3L310.5 62.0L310.9 62.8L311.3 63.7L311.7 64.5L312.1 65.4L312.6 66.2L313.0 66.9L313.4 67.5L313.8 68.1L314.3 68.7L314.7 69.3L315.1 69.9L315.5 70.6L315.9 71.2L316.4 72.0L316.8 72.9L317.2 73.8L317.6 74.6L318.1 75.5L318.5 76.4L318.9 77.2L319.3 78.0L319.7 78.7L320.2 79.4L320.6 80.0L321.0 80.5L321.4 81.0L321.9 81.5L322.3 81.8L322.7 81.9L323.1 81.7L323.5 81.2L324.0 80.6L324.4 79.7L324.8 78.5L325.2 77.0L325.7 75.4L326.1 73.8L326.5 72.1L326.9 70.2L327.3 68.5L327.8 67.0L328.2 65.9L328.6 65.0L329.0 64.3L329.5 63.6L329.9 63.1L330.4 62.8L330.8 62.8L331.2 63.1L331.7 63.7L332.1 64.3L332.5 65.0L332.9 65.7L333.3 66.4L333.8 67.1L334.2 67.9L334.6 68.6L335.0 69.3L335.4 70.0L335.8 70.7L336.2 71.2L336.6 71.7L337.1 72.0L337.5 72.3L337.9 72.4L338.3 72.5L338.8 72.4L339.2 72.3L339.6 72.1L340.0 71.8L340.4 71.5L340.9 71.2L341.3 70.8L341.7 70.4L342.1 70.1L342.6 69.7L343.0 69.3L343.4 68.9L343.8 68.5L344.2 68.2L344.7 67.9L345.1 67.6L345.5 67.3L345.9 67.0L346.4 67.0L346.8 67.2L347.2 67.6L347.6 68.1L348.0 68.7L348.5 69.4L348.9 70.2L349.3 71.1L349.7 72.1L350.2 73.4L350.7 74.9L351.2 76.3L351.7 59.8L352.2 43.4L352.6 26.9L353.1 10.4" stroke="#0a800a" stroke-width="1.2"/>
<path d="M353.1 10.4L353.3 18.4L353.5 24.9L353.7 29.8L353.9 36.5L354.1 44.1L354.3 51.7L354.5 58.5L354.7 64.4L354.9 69.8L355.1 77.2L355.4 78.5L355.7 78.3L355.9 76.0L356.2 75.3L356.4 76.0L356.7 76.0L356.9 74.0L357.1 72.0L357.4 71.4L357.6 72.1L357.8 71.1L358.0 67.9L358.3 66.0L358.5 65.7L358.7 65.0L358.9 63.6L359.2 59.4L359.4 57.5L359.6 57.1L359.8 57.1L360.1 55.3L360.3 51.6L360.5 50.0L360.7 50.8L361.0 50.5L361.2 48.4L361.4 45.8L361.6 44.8L361.9 46.2L362.1 46.1L362.3 45.4L362.5 43.3L362.8 43.1L363.0 44.8L363.2 45.2L363.4 44.1L363.7 43.1L363.9 44.2L364.1 46.8L364.3 48.4L364.6 47.8L364.8 47.3L365.0 48.6L365.2 51.5L365.5 53.5L365.7 53.3L365.9 53.5L366.1 54.9L366.4 58.2L366.6 58.9L366.8 58.2L367.0 57.6L367.2 58.1L367.4 59.7L367.6 61.1L367.8 60.8L368.0 59.8L368.2 60.2L368.4 60.8L368.6 62.4L368.9 62.6L369.1 60.5L369.3 60.6L369.5 61.5L369.7 63.2L369.9 64.5L370.1 62.9L370.3 62.6L370.5 63.0L370.7 65.9L370.9 67.1L371.1 66.5L371.3 65.5L371.6 66.0L371.8 67.4L372.0 69.4L372.2 68.6L372.4 67.1L372.6 67.6L372.8 68.4L373.0 70.1L373.2 70.3L373.5 69.2L373.7 68.6L373.9 69.8L374.1 71.5L374.3 72.2L374.5 70.7L374.7 70.1L374.9 71.6L375.1 73.2L375.4 74.4L375.6 73.5L375.8 72.6L376.0 73.5L376.2 75.2L376.4 76.3L376.6 76.4L376.8 75.3L377.0 75.1L377.3 77.2L377.5 79.0L377.7 78.3L377.9 77.8L378.1 76.8L378.3 79.2L378.5 80.5L378.7 81.0L378.9 79.7L379.2 79.1L379.4 80.1L379.6 81.9L379.8 82.3L380.0 80.8L380.2 80.3L380.4 81.1L380.6 82.4L380.8 83.7L381.1 82.4L381.3 81.6L381.5 81.4L381.7 83.0L381.9 83.8L382.1 82.6L382.3 81.2L382.5 80.2L382.7 81.6L383.0 82.4L383.2 81.1L383.4 78.8L383.6 77.7L383.8 78.5L384.0 78.9L384.2 78.1L384.4 74.7L384.6 73.1L384.9 73.3L385.1 73.5L385.3 73.0L385.5 70.7L385.7 69.4L385.9 68.5L386.1 70.3L386.3 69.3L386.5 67.9L386.8 65.3L387.0 65.6L387.2 66.3L387.4 66.8L387.6 66.5L387.8 64.1L388.0 63.8L388.2 64.7L388.4 65.5L388.7 65.0L388.9 64.1L389.1 63.6L389.3 64.0L389.5 66.1L389.7 66.4L389.9 64.5L390.1 63.9L390.3 64.8L390.6 66.8L390.8 67.0L391.0 66.1L391.2 65.8L391.4 66.8L391.6 68.0L391.8 69.2L392.0 68.8L392.2 67.6L392.5 67.8L392.7 69.2L392.9 70.7L393.1 70.8L393.3 69.5L393.5 69.1L393.7 70.2L393.9 72.5L394.1 72.1L394.4 71.3L394.6 70.1L394.8 72.0L395.0 73.3L395.2 73.3L395.4 72.0L395.6 71.1L395.8 71.8L396.0 73.0L396.2 73.9L396.4 73.6L396.6 72.0L396.8 71.5L397.0 72.7L397.2 74.0L397.4 73.8L397.6 72.1L397.8 71.0L398.0 72.6L398.2 73.3L398.4 73.6L398.6 72.7L398.9 71.4L399.1 71.3L399.3 72.2L399.5 72.8L399.7 72.5L399.9 70.5L400.1 70.0L400.4 71.8L400.6 72.1L400.8 71.9L401.0 69.3L401.2 69.5L401.5 70.5L401.7 71.5L401.9 70.2L402.1 68.3L402.3 68.1L402.6 69.7L402.8 70.5L403.0 69.7L403.2 68.0L403.4 67.7L403.6 68.7L403.9 69.8L404.1 69.4L404.3 67.1L404.5 66.6L404.7 66.9L404.9 68.8L405.1 68.9L405.3 68.3L405.5 66.3L405.7 66.7L405.9 68.5L406.1 69.6L406.3 69.2L406.5 67.7L406.7 66.7L406.9 67.6L407.1 69.3L407.3 69.9L407.5 69.0L407.7 67.7L407.9 68.1L408.1 70.0L408.3 71.3L408.5 70.2L408.8 68.6L409.0 69.3L409.2 71.6L409.4 72.4L409.6 72.1L409.8 71.3L410.1 71.6L410.3 74.4L410.5 75.2L410.7 75.4L411.0 74.1L411.2 74.7L411.5 76.8L411.8 76.8L412.0 64.5L412.3 52.6L412.5 44.2L412.8 33.8L413.0 20.8L413.3 8.2L413.5 17.9L413.7 27.3L413.9 35.6L414.1 42.5L414.3 50.3L414.5 58.8L414.8 69.2L415.0 77.7L415.3 74.6L415.6 73.5L415.9 74.9L416.1 74.9L416.4 72.8L416.6 72.4L416.8 73.2L417.0 75.0L417.3 73.8L417.5 72.1L417.7 70.2L418.0 70.5L418.2 69.8L418.4 67.3L418.6 64.6L418.9 62.6L419.1 61.9L419.3 61.3L419.5 59.2L419.8 55.8L420.0 54.3L420.2 54.1L420.4 53.5L420.7 51.2L420.9 48.8L421.1 47.0L421.3 48.5L421.6 48.4L421.8 46.4L422.0 44.4L422.2 44.8L422.5 45.6L422.7 45.9L422.9 44.9L423.1 44.1L423.4 45.6L423.6 47.8L423.8 48.5L424.0 47.6L424.3 47.0L424.5 49.3L424.7 52.0L424.9 52.8L425.2 52.4L425.4 53.1L425.6 54.8L425.8 56.8L426.0 57.7L426.2 57.4L426.5 56.7L426.7 57.9L426.9 59.9L427.1 60.9L427.3 59.9L427.5 59.1L427.7 60.2L427.9 62.4L428.1 62.9L428.3 62.4L428.5 61.7L428.7 61.5L428.9 62.5L429.1 64.4L429.3 65.0L429.5 63.3L429.7 63.1L430.0 64.0L430.2 66.3L430.4 66.7L430.6 65.7L430.8 65.4L431.0 66.2L431.2 68.6L431.4 68.8L431.6 67.8L431.9 67.6L432.1 67.7L432.3 69.9L432.5 70.7L432.7 70.5L432.9 68.9L433.1 68.8L433.3 70.7L433.5 72.4L433.8 72.6L434.0 71.6L434.2 70.8L434.4 72.2L434.6 74.6L434.8 75.2L435.0 74.0L435.2 73.4L435.4 74.4L435.7 76.1L435.9 77.0L436.1 76.9L436.3 76.0L436.5 75.8L436.7 78.8L436.9 79.3L437.1 78.8L437.3 77.8L437.6 78.2L437.8 80.1L438.0 81.8L438.2 81.8L438.4 80.0L438.6 79.8L438.8 81.1L439.0 83.0L439.2 83.5L439.5 81.2L439.7 80.9L439.9 82.0L440.1 83.7L440.3 84.5L440.5 82.6L440.7 82.1L440.9 82.6L441.1 84.2L441.4 84.2L441.6 83.2L441.8 81.5L442.0 81.1L442.2 82.3L442.4 83.0L442.6 81.1L442.8 79.7L443.0 78.4L443.3 79.4L443.5 80.0L443.7 78.6L443.9 76.1L444.1 74.7L444.3 75.8L444.5 75.7L444.7 74.9L444.9 72.9L445.2 70.9L445.4 71.5L445.6 71.4L445.8 71.0L446.0 69.0L446.2 67.1L446.4 67.3L446.6 68.7L446.8 69.2L447.1 67.1L447.3 65.9L447.5 65.6L447.7 66.9L447.9 67.7L448.1 66.5L448.3 65.0L448.5 64.5L448.8 65.9L449.0 66.5L449.2 66.3L449.4 65.2L449.6 64.6L449.8 65.4L450.0 67.2L450.2 67.2L450.4 66.2L450.7 65.3L450.9 66.4L451.1 68.4L451.3 68.6L451.5 67.8L451.7 67.3L451.9 68.0L452.1 70.1L452.3 71.3L452.6 70.5L452.8 69.7L453.0 70.3L453.2 72.5L453.4 73.0L453.6 72.4L453.8 72.1L454.0 71.7L454.2 72.8L454.5 75.1L454.7 74.7L454.9 73.6L455.1 72.7L455.3 74.7L455.5 75.9L455.7 76.0L455.9 74.9L456.1 74.3L456.4 75.3L456.6 76.3L456.8 77.2L457.0 76.1L457.2 74.3L457.4 74.6L457.6 76.5L457.8 77.0L458.0 76.1L458.3 74.8L458.5 74.3L458.7 76.3L458.9 76.7L459.1 76.4L459.3 74.6L459.5 74.2L459.7 74.5L459.9 76.0L460.2 75.5L460.4 74.4L460.6 73.0L460.8 73.3L461.0 75.7L461.2 75.0L461.4 73.1L461.6 72.3L461.8 72.3L462.1 74.8L462.3 74.3L462.5 73.7L462.7 71.6L462.9 71.5L463.1 73.8L463.3 73.8L463.5 73.1L463.7 71.7L464.0 71.4L464.2 72.7L464.5 72.1L464.7 70.4L465.0 68.9L465.2 70.3L465.4 71.8L465.6 70.9L465.8 70.1L466.1 69.1L466.3 70.4L466.5 72.2L466.7 72.6L466.9 71.8L467.1 70.1L467.3 71.4L467.5 72.9L467.7 73.4L468.0 72.8L468.2 71.4L468.4 72.2L468.6 73.4L468.8 75.0L469.0 74.5L469.2 73.8L469.4 73.9L469.6 75.2L469.9 77.3L470.1 76.6L470.3 76.4L470.5 76.4L470.7 78.5L471.0 79.8L471.2 79.5L471.4 78.8L471.6 70.2L471.8 64.0L472.1 56.6L472.3 48.0L472.5 38.8L472.7 30.2L472.9 22.9L473.1 16.2L473.3 22.3L473.5 27.3L473.7 32.7L473.9 39.7L474.1 47.7L474.3 54.9L474.5 59.7L474.7 64.9L474.9 71.0L475.1 78.5L475.4 80.1L475.6 79.9L475.8 78.4L476.0 78.5L476.3 80.1L476.5 81.3L476.7 79.1L476.9 76.8L477.2 74.8L477.4 75.3L477.6 75.1L477.8 72.7L478.1 69.1L478.3 68.3L478.5 68.0L478.7 66.6L479.0 63.4L479.2 60.4L479.4 59.8L479.6 59.5L479.9 58.5L480.1 55.6L480.3 53.8L480.5 53.3L480.8 53.2L481.0 52.7L481.2 50.5L481.4 48.7L481.7 49.5L481.9 50.5L482.1 49.9L482.3 47.9L482.6 46.8L482.8 47.8L483.0 49.0L483.2 49.3L483.5 47.9L483.7 47.9L483.9 49.7L484.1 52.2L484.4 52.6L484.6 52.2L484.8 52.7L485.0 54.8L485.3 57.8L485.5 58.0L485.7 57.7L485.9 58.4L486.2 60.5L486.4 62.1L486.6 62.7L486.8 61.3L487.0 61.4L487.2 63.3L487.4 64.1L487.6 64.4L487.8 63.6L488.0 63.1L488.2 64.4L488.4 65.4L488.6 66.6L488.9 65.3L489.1 64.5L489.3 64.6L489.5 66.0L489.7 67.4L489.9 67.9L490.1 66.5L490.3 65.8L490.5 66.6L490.7 68.6L490.9 68.8L491.1 67.6L491.3 66.6L491.5 67.4L491.7 69.4L491.9 70.5L492.1 69.8L492.3 68.4L492.5 68.9L492.7 70.0L493.0 71.6L493.2 71.5L493.4 70.9L493.6 70.5L493.8 71.4L494.0 73.4L494.2 74.1L494.4 72.7L494.6 72.7L494.9 73.9L495.1 75.7L495.3 76.0L495.5 75.7L495.7 74.9L495.9 75.8L496.1 77.5L496.3 78.6L496.5 77.7L496.8 76.8L497.0 77.0L497.2 79.6L497.4 80.6L497.6 80.0L497.8 78.9L498.0 79.2L498.2 81.0L498.4 82.6L498.7 82.5L498.9 81.0L499.1 80.8L499.3 82.3L499.5 84.1L499.7 84.0L499.9 83.0L500.1 82.0L500.4 83.8L500.6 84.8L500.8 84.9L501.0 83.8L501.3 83.2L501.5 84.2L501.7 85.2L501.9 85.1L502.1 82.6L502.3 81.7L502.5 82.0L502.8 82.8L503.0 82.4L503.2 80.7L503.4 78.9L503.6 78.3L503.8 78.5L504.0 78.4L504.2 76.8L504.4 74.4L504.7 73.4L504.9 74.2L505.1 74.6L505.3 72.8L505.5 70.4L505.7 69.4L505.9 70.2L506.1 70.3L506.3 69.8L506.6 67.4L506.8 65.7L507.0 66.2L507.2 67.3L507.4 66.8L507.6 65.8L507.8 64.2L508.0 64.6L508.2 65.8L508.5 66.3L508.7 64.6L508.9 63.0L509.1 64.1L509.3 64.8L509.5 65.7L509.7 65.7L509.9 64.4L510.1 64.3L510.4 65.2L510.6 67.3L510.8 66.1L511.0 65.0L511.2 65.1L511.4 67.0L511.6 68.1L511.8 68.3L512.0 67.0L512.3 66.8L512.5 68.0L512.7 69.8L512.9 70.9L513.1 69.8L513.3 69.0L513.5 70.4L513.7 72.0L513.9 72.8L514.2 72.1L514.4 71.0L514.6 71.4L514.8 73.1L515.0 74.4L515.2 73.0L515.5 72.1L515.7 71.9L515.9 74.6L516.2 74.6L516.4 73.4L516.7 72.3L516.9 73.5L517.1 75.0L517.4 75.0L517.6 73.0L517.8 72.4L518.0 74.0L518.2 75.1L518.4 74.7L518.6 73.1L518.8 72.0L519.1 73.1L519.3 74.5L519.5 74.1L519.7 73.2L519.9 71.3L520.1 72.2L520.3 73.7L520.5 74.0L520.7 72.6L521.0 71.2L521.2 70.9L521.4 71.9L521.6 72.8L521.8 71.9L522.0 70.6L522.2 70.0L522.4 71.0L522.6 72.3L522.9 71.9L523.1 69.8L523.3 69.8L523.5 70.2L523.7 72.0L523.9 72.0L524.1 70.3L524.3 68.9L524.5 69.4L524.8 70.7L525.0 71.6L525.2 70.4L525.4 68.9L525.6 69.6L525.8 70.6L526.1 70.8L526.3 69.9L526.5 68.2L526.7 69.1L526.9 70.8L527.2 71.1L527.4 69.5L527.6 68.3L527.8 69.1L528.0 69.6L528.2 71.0L528.4 71.4L528.6 69.4L528.8 69.4L529.0 69.8L529.2 71.8L529.4 72.0L529.6 70.7L529.8 70.1L530.0 70.7L530.2 72.9L530.5 73.7L530.7 72.9L530.9 71.9L531.1 72.9L531.3 74.9L531.6 76.4L531.8 75.9L532.0 75.1L532.2 76.6L532.4 71.7L532.6 65.5L532.8 57.6L533.0 49.5L533.2 42.8L533.4 37.6L533.6 32.3L533.9 25.1L534.1 16.3L534.3 9.2L534.5 16.4L534.7 25.0L534.9 31.4L535.1 37.4L535.3 42.1L535.5 48.8L535.7 57.2L535.9 64.8L536.1 70.1L536.3 75.7L536.5 74.5L536.7 75.1L537.0 75.7L537.2 74.5L537.4 72.4L537.6 71.8L537.9 73.7L538.1 74.7L538.4 73.7L538.6 72.7L538.9 71.8L539.1 72.8L539.3 71.5L539.5 67.9L539.8 65.3L540.0 64.8L540.2 65.1L540.5 62.8L540.7 58.9L540.9 57.2L541.1 56.5L541.4 56.0L541.6 54.3L541.8 51.4L542.0 49.7L542.3 50.3L542.5 50.4L542.7 48.9L542.9 46.3L543.2 45.7L543.4 46.6L543.6 47.8L543.8 46.8L544.1 45.0L544.3 45.3L544.5 46.6L544.7 48.6L545.0 47.3L545.2 47.7L545.4 48.7L545.6 51.0L545.9 52.7L546.1 52.8L546.3 52.9L546.5 53.9L546.8 56.5L547.0 58.4L547.2 58.0L547.4 57.3L547.6 58.5L547.8 60.7L548.0 61.2L548.2 60.5L548.4 59.7L548.6 60.2L548.9 62.0L549.1 63.3L549.3 63.4L549.5 61.8L549.7 61.7L549.9 62.4L550.1 63.8L550.3 65.0L550.5 63.7L550.7 62.7L550.9 63.8L551.1 65.2L551.3 66.4L551.5 66.2L551.7 65.2L551.9 65.0L552.1 66.6L552.3 67.5L552.5 68.7L552.7 67.3L552.9 66.2L553.1 66.9L553.3 68.5L553.6 70.2L553.8 69.0L554.0 67.9L554.2 68.3L554.4 70.6L554.6 71.9L554.8 71.4L555.0 70.1L555.2 70.5L555.5 72.5L555.7 74.1L555.9 73.9L556.1 72.5L556.3 72.2L556.5 73.8L556.7 76.3L556.9 76.4L557.1 74.9L557.4 74.2L557.6 76.2L557.8 77.5L558.0 78.3L558.2 77.5L558.4 76.7L558.6 78.0L558.8 80.2L559.0 80.5L559.3 79.6L559.5 79.0L559.7 79.1L559.9 81.3L560.1 82.4L560.3 82.4L560.5 81.2L560.7 81.1L560.9 82.0L561.2 83.8L561.4 83.2L561.6 82.0L561.8 81.4L562.0 83.1L562.2 83.8L562.4 84.2L562.6 83.1L562.8 81.7L563.1 82.6L563.3 83.3L563.5 83.8L563.7 81.2L563.9 80.3L564.1 80.0L564.3 81.6L564.5 81.5L564.7 79.7L565.0 77.3L565.2 76.9L565.4 77.9L565.6 77.3L565.8 75.6L566.0 73.9L566.2 72.3L566.4 72.5L566.6 73.3L566.9 71.9L567.1 69.0L567.3 67.6L567.5 68.8L567.7 68.9L567.9 68.6L568.1 66.5L568.3 64.7L568.5 64.7L568.8 66.1L569.0 66.6L569.2 64.5L569.4 63.4L569.7 64.5L570.0 66.5L570.2 66.4L570.4 65.2L570.6 64.8L570.8 66.0L571.1 67.4L571.3 67.4L571.5 65.9L571.7 65.9L571.9 67.1L572.1 68.8L572.3 69.2L572.5 68.2L572.7 67.4L572.9 68.3L573.1 69.8L573.3 71.2L573.5 70.1L573.7 69.4L573.9 69.6L574.2 71.2L574.4 72.3L574.6 72.0L574.8 71.3L575.0 70.7L575.3 72.4L575.5 73.9L575.7 73.1L575.9 71.8L576.1 71.7L576.3 73.1L576.5 74.8L576.8 74.6L577.0 73.0L577.2 71.6L577.4 73.3L577.6 74.3L577.8 74.1L578.0 72.8L578.2 71.6L578.4 72.0L578.7 73.8L578.9 74.1L579.1 72.4L579.3 71.5L579.5 71.8L579.7 73.2L579.9 73.9L580.1 73.1L580.3 70.8L580.6 70.6L580.8 72.9L581.0 73.0L581.2 72.7L581.4 70.5L581.6 70.7L581.8 71.6L582.0 72.9L582.2 72.3L582.5 70.4L582.7 69.7L582.9 70.7L583.1 72.0L583.3 71.8L583.5 70.4L583.7 69.3L583.9 69.4L584.1 71.6L584.4 71.4L584.6 69.9L584.8 69.1L585.0 69.0L585.2 71.1L585.4 71.5L585.6 70.3L585.8 68.6L586.0 68.5L586.3 69.8L586.5 70.6L586.7 70.5L586.9 68.2L587.1 68.0L587.3 68.8L587.5 70.5L587.7 70.3L587.9 68.3L588.2 67.6L588.4 68.8L588.6 69.8L588.8 69.7L589.0 68.9L589.2 67.7L589.4 68.1L589.6 69.7L589.8 69.6L590.1 69.0L590.3 67.2L590.5 67.6L590.7 69.3L590.9 70.1L591.1 69.3L591.3 67.9L591.5 67.9L591.7 69.3L592.0 70.1L592.2 69.9L592.4 68.6L592.6 68.2L592.8 70.4L593.0 71.8L593.3 71.7L593.5 70.8L593.7 70.8L593.9 72.7L594.2 74.0L594.5 74.3L594.7 72.8L595.0 75.1L595.3 77.7L595.5 68.7L595.8 58.8L596.0 50.5L596.2 43.6L596.4 36.3L596.6 27.8L596.8 17.8L597.0 9.5L597.2 16.5L597.4 24.8L597.6 31.5L597.8 35.9L598.0 41.7L598.2 49.3L598.4 56.6L598.6 63.8L598.9 69.5L599.1 74.0L599.3 73.7L599.5 74.5L599.7 75.2L600.0 73.0L600.2 71.3L600.4 71.4L600.7 73.2L600.9 74.0L601.2 72.1L601.4 71.8L601.6 71.9L601.9 71.9L602.1 69.8L602.3 66.5L602.5 64.5L602.8 63.8L603.0 63.8L603.2 60.5L603.4 58.1L603.7 56.6L603.9 56.2L604.1 55.6L604.3 53.7L604.6 50.4L604.8 49.3L605.0 50.3L605.2 50.0L605.5 48.0L605.7 46.0L605.9 45.4L606.1 46.3L606.4 46.8L606.6 44.9L606.8 43.6L607.0 44.9L607.3 46.2L607.5 47.4L607.7 47.0L608.0 46.0L608.2 47.9L608.4 50.5L608.6 51.2L608.9 51.7L609.1 51.5L609.3 54.3L609.5 56.1L609.7 57.2L609.9 55.7L610.2 55.6L610.4 57.2L610.6 59.1L610.8 59.8L611.0 59.3L611.2 58.1L611.4 59.2L611.6 60.7L611.8 62.1L612.0 61.3L612.2 60.1L612.4 59.7L612.6 60.9L612.8 63.0L613.0 62.7L613.2 61.5L613.4 60.5L613.6 62.4L613.9 63.6L614.1 64.3L614.3 63.4L614.5 62.9L614.7 63.0L614.9 65.3L615.1 66.0L615.3 66.3L615.5 65.3L615.7 65.1L615.9 66.0L616.1 68.1L616.3 68.6L616.5 67.9L616.7 66.5L617.0 68.5L617.2 70.5L617.4 70.5L617.6 70.2L617.8 69.3L618.0 69.9L618.2 72.4L618.4 73.2L618.6 72.6L618.9 71.6L619.1 71.5L619.3 73.8L619.5 75.4L619.7 74.5L619.9 73.3L620.1 73.8L620.3 75.3L620.5 77.1L620.8 76.8L621.0 76.5L621.2 75.7L621.4 77.4L621.6 79.5L621.8 79.3L622.0 78.4L622.2 77.5L622.4 78.2L622.7 80.7L622.9 80.9L623.1 80.4L623.3 79.2L623.5 79.9L623.7 81.6L623.9 82.3L624.1 81.7L624.3 80.5L624.6 80.7L624.8 81.8L625.0 83.2L625.2 82.8L625.4 81.5L625.6 80.5L625.8 82.0L626.0 82.8L626.2 81.9L626.5 80.2L626.7 78.4L626.9 79.1L627.1 80.3L627.3 79.6L627.5 76.9L627.7 75.9L627.9 75.3L628.2 76.1L628.4 75.7L628.6 73.7L628.8 71.7L629.0 71.2L629.2 72.2L629.4 71.6L629.6 70.5L629.8 68.1L630.1 67.2L630.3 67.9L630.5 68.1L630.7 67.6L630.9 65.6L631.1 64.4L631.3 65.3L631.5 66.0L631.7 65.5L632.0 63.6L632.2 62.7L632.4 63.4L632.6 64.6L632.8 65.3L633.0 63.6L633.2 62.7L633.4 63.0L633.6 64.7L633.9 65.6L634.1 64.3L634.3 62.7L634.5 64.0L634.7 65.6L634.9 66.7L635.1 66.0L635.3 64.4L635.5 64.6L635.8 66.2L636.0 68.3L636.2 67.5L636.4 67.0L636.6 66.9L636.8 68.3L637.0 69.4L637.2 69.7L637.4 69.0L637.6 68.4L637.8 69.0L638.0 71.3L638.2 71.9L638.4 71.8L638.6 70.3L638.9 70.4L639.1 71.2L639.3 72.9L639.5 73.0L639.7 71.8L639.9 70.6L640.1 72.0L640.3 73.2L640.5 73.5L640.7 73.3L640.9 71.9L641.1 71.9L641.3 73.2L641.5 73.9L641.8 73.6L642.0 71.6L642.2 72.1L642.5 73.7L642.7 73.8L642.9 72.2L643.2 71.4L643.4 71.7L643.6 73.9L643.9 72.9L644.1 71.0L644.4 70.9L644.6 73.0L644.8 73.6L645.1 71.6L645.3 70.1L645.5 70.6L645.8 72.4L646.0 72.2L646.2 70.4L646.4 69.7L646.6 70.2L646.9 71.4L647.1 71.5L647.3 70.7L647.5 69.3L647.7 69.5L647.9 70.7L648.1 71.8L648.3 70.8L648.5 68.6L648.8 69.0L649.0 70.7L649.2 71.1L649.4 70.0L649.6 68.9L649.8 67.8L650.0 68.9L650.2 70.3L650.4 70.5L650.7 68.9L650.9 67.7L651.1 68.3L651.3 70.5L651.5 70.4L651.7 68.2L651.9 67.8L652.1 68.3L652.3 70.1L652.6 70.6L652.8 68.7L653.0 67.6L653.2 67.7L653.4 69.3L653.6 70.1L653.8 69.5L654.0 68.3L654.2 68.0L654.5 69.9L654.7 71.2L654.9 70.4L655.1 69.7L655.3 69.3L655.5 70.3L655.8 72.8L656.0 72.5L656.2 71.3L656.4 71.5L656.7 73.4L657.0 75.6L657.2 74.5L657.5 74.6L657.8 76.9L658.0 69.3L658.3 60.4L658.5 50.3L658.7 42.1L658.9 35.4L659.1 28.5L659.3 19.3L659.5 9.7L659.7 15.7L659.9 23.5L660.1 31.1L660.3 37.6L660.5 43.4L660.7 48.4L660.9 55.7L661.1 63.9L661.4 71.3L661.6 76.1L661.8 74.5L662.0 74.1L662.2 74.9L662.5 74.1L662.7 72.2L662.9 70.4L663.2 71.8L663.4 73.8L663.7 73.8L663.9 71.7L664.1 71.0L664.4 70.9L664.6 70.0L664.8 68.0L665.0 63.9L665.3 62.6L665.5 62.9L665.7 61.5L665.9 59.2L666.2 55.8L666.4 55.3L666.6 55.2L666.8 54.7L667.1 51.2L667.3 49.7L667.5 49.2L667.7 49.4L668.0 48.5L668.2 47.1L668.4 44.9L668.6 45.6L668.9 46.7L669.1 47.0L669.3 44.5L669.5 43.9L669.8 44.9L670.0 47.1L670.2 47.3L670.5 46.8L670.7 47.4L670.9 49.3L671.1 51.7L671.4 52.4L671.6 52.7L671.8 52.9L672.0 55.0L672.2 57.1L672.4 57.5L672.7 56.9L672.9 56.5L673.1 57.9L673.3 59.7L673.5 60.3L673.7 58.9L673.9 58.3L674.1 59.7L674.3 61.4L674.5 61.9L674.7 60.7L674.9 60.1L675.1 59.9L675.3 60.8L675.5 63.2L675.7 62.7L676.0 61.9L676.2 61.6L676.4 63.6L676.7 65.1L676.9 64.9L677.1 63.3L677.4 64.3L677.6 65.9" stroke="#0a800a" stroke-width="1.8"/>
</g>
<path d="M30.2 22.7h6M677.7 22.7h-6M30.2 37.7h6M677.7 37.7h-6M30.2 52.7h6M677.7 52.7h-6M30.2 67.7h6M677.7 67.7h-6M30.2 82.7h6M677.7 82.7h-6M95.0 7.7v6M95.0 97.7v-6M159.7 7.7v6M159.7 97.7v-6M224.4 7.7v6M224.4 97.7v-6M289.2 7.7v6M289.2 97.7v-6M353.9 7.7v6M353.9 97.7v-6M418.7 7.7v6M418.7 97.7v-6M483.4 7.7v6M483.4 97.7v-6M548.2 7.7v6M548.2 97.7v-6M613.0 7.7v6M613.0 97.7v-6" stroke="#7c7c7c" stroke-width="0.9" fill="none"/>
<rect x="30.2" y="7.7" width="647.5" height="90.0" fill="none" stroke="#8e8e8e" stroke-width="1.45"/>
<text x="25.9" y="11.0" font-size="10" text-anchor="end">4</text>
<text x="25.9" y="41.0" font-size="10" text-anchor="end">2</text>
<text x="25.9" y="71.0" font-size="10" text-anchor="end">0</text>
<text x="25.9" y="101.0" font-size="10" text-anchor="end">-2</text>
<text x="30.5" y="109.8" font-size="10" text-anchor="middle">0</text>
<text x="95.2" y="109.8" font-size="10" text-anchor="middle">1</text>
<text x="160.0" y="109.8" font-size="10" text-anchor="middle">2</text>
<text x="224.8" y="109.8" font-size="10" text-anchor="middle">3</text>
<text x="289.5" y="109.8" font-size="10" text-anchor="middle">4</text>
<text x="354.2" y="109.8" font-size="10" text-anchor="middle">5</text>
<text x="419.0" y="109.8" font-size="10" text-anchor="middle">6</text>
<text x="483.8" y="109.8" font-size="10" text-anchor="middle">7</text>
<text x="548.5" y="109.8" font-size="10" text-anchor="middle">8</text>
<text x="613.2" y="109.8" font-size="10" text-anchor="middle">9</text>
<text x="678.0" y="109.8" font-size="10" text-anchor="middle">10</text>
<text x="353.6" y="118.9" font-size="12.3" text-anchor="middle">Time [s]</text>
<text transform="translate(12.4 54.0) rotate(-90)" font-size="12.2" text-anchor="middle">Voltage [mV]</text>
<rect x="580.3" y="9.3" width="95.6" height="31.6" fill="#fff" stroke="#3c3c3c" stroke-width="1.2"/>
<path d="M587.8 19.8h20" stroke="#1414e6" stroke-width="1.7"/>
<path d="M587.8 32.2h20" stroke="#0a800a" stroke-width="1.7"/>
<text x="667.7" y="23.8" font-size="12.3" text-anchor="end">1st Lead</text>
<text x="667.7" y="38.0" font-size="12.3" text-anchor="end">2nd Lead</text>
<path d="M30.2 181.8H677.7M30.2 196.8H677.7M30.2 211.8H677.7M30.2 226.9H677.7M30.2 241.9H677.7M95.0 166.8V256.9M159.7 166.8V256.9M224.4 166.8V256.9M289.2 166.8V256.9M353.9 166.8V256.9M418.7 166.8V256.9M483.4 166.8V256.9M548.2 166.8V256.9M613.0 166.8V256.9" stroke="#c4c4c4" stroke-width="0.9" stroke-dasharray="1 1.1" fill="none"/>
<g fill="none" stroke-linejoin="round" stroke-linecap="round">
<path d="M30.4 227.9L30.8 227.4L31.3 226.8L31.7 226.3L32.2 225.9L32.6 225.7L33.0 225.7L33.4 225.8L33.9 226.1L34.3 226.3L34.7 226.6L35.1 226.7L35.6 226.7L36.0 226.6L36.4 226.5L36.8 226.3L37.2 226.2L37.7 226.2L38.1 226.2L38.5 226.3L38.9 226.4L39.4 226.5L39.8 226.6L40.2 226.7L40.6 226.8L41.0 226.8L41.5 226.9L41.9 227.0L42.3 227.0L42.7 227.0L43.2 227.0L43.6 227.0L44.0 226.9L44.4 226.9L44.8 226.8L45.3 226.7L45.7 226.5L46.1 226.3L46.5 226.1L47.0 225.9L47.4 225.7L47.8 225.7L48.2 225.8L48.6 225.9L49.1 226.2L49.5 226.4L49.9 226.7L50.3 227.0L50.8 227.3L51.2 227.6L51.6 228.0L52.0 228.3L52.4 228.7L52.9 229.1L53.3 229.5L53.7 230.0L54.1 230.5L54.6 230.9L55.0 231.2L55.4 231.2L55.8 230.9L56.2 230.3L56.7 229.5L57.1 228.7L57.5 228.1L57.9 227.9L58.4 228.2L58.8 229.0L59.2 229.8L59.6 230.4L60.1 230.7L60.5 231.0L60.9 231.1L61.3 231.2L61.7 231.3L62.2 231.2L62.6 231.2L63.0 231.0L63.4 230.8L63.9 230.5L64.3 230.3L64.7 230.1L65.1 229.9L65.5 229.7L66.0 229.5L66.4 229.4L66.8 229.2L67.2 229.1L67.7 228.9L68.1 228.8L68.5 228.7L68.9 228.6L69.3 228.5L69.8 228.4L70.2 228.2L70.6 227.9L71.0 227.6L71.5 227.3L71.9 227.1L72.3 227.0L72.7 227.0L73.1 227.1L73.6 227.3L74.0 227.4L74.4 227.7L74.8 227.9L75.3 228.1L75.7 228.4L76.1 228.7L76.5 229.0L76.9 229.3L77.4 229.6L77.8 229.8L78.2 229.9L78.6 230.1L79.1 230.2L79.5 230.3L79.9 230.4L80.3 230.4L80.7 230.4L81.2 230.4L81.6 230.3L82.0 230.2L82.4 230.1L82.9 229.9L83.3 229.8L83.7 229.6L84.1 229.4L84.5 229.2L85.0 229.1L85.4 228.9L85.8 228.8L86.2 228.7L86.7 228.6L87.1 228.5L87.5 228.4L87.9 228.3L88.3 228.2L88.8 228.1L89.2 228.0L89.6 228.0L90.0 227.9L90.5 227.8L90.9 227.7L91.3 227.7L91.7 227.6L92.1 227.5L92.6 227.4L93.0 227.2L93.4 227.0L93.8 226.8L94.3 226.6L94.7 226.4L95.1 226.2L95.5 226.0L95.9 225.9L96.4 225.7L96.8 225.6L97.2 225.4L97.6 225.3L98.1 225.2L98.5 225.2L98.9 225.1L99.3 225.0L99.7 225.0L100.2 225.0L100.6 225.0L101.0 225.0L101.4 225.1L101.9 225.2L102.3 225.2L102.7 225.3L103.1 225.5L103.5 225.6L104.0 225.8L104.4 225.9L104.8 226.1L105.2 226.2L105.7 226.2L106.1 226.2L106.5 226.1L106.9 226.0L107.3 226.0L107.8 226.2L108.2 226.5L108.6 227.1L109.0 227.7L109.5 228.2L109.9 228.6L110.3 228.7L110.7 228.5L111.1 227.9L111.6 227.2L112.0 226.5L112.4 225.8L112.8 225.3L113.3 225.1L113.7 224.9L114.1 224.8L114.5 224.7L114.9 224.6L115.4 224.5L115.8 224.3L116.2 224.2L116.6 224.0L117.1 223.9L117.5 223.8L117.9 223.6L118.3 223.5L118.8 223.4L119.2 223.3L119.6 223.3L120.0 223.2L120.4 223.3L120.9 223.5L121.3 223.7L121.7 224.0L122.1 224.3L122.6 224.6L123.0 225.0L123.4 225.5L123.8 226.0L124.2 226.6L124.7 227.2L125.1 227.6L125.5 227.9L125.9 227.9L126.4 227.8L126.8 227.5L127.2 227.2L127.6 226.9L128.0 226.7L128.5 226.5L128.9 226.4L129.3 226.3L129.7 226.2L130.2 226.2L130.6 226.2L131.0 226.3L131.4 226.4L131.8 226.6L132.3 226.7L132.7 226.9L133.1 227.0L133.5 227.1L134.0 227.2L134.4 227.2L134.8 227.3L135.2 227.3L135.6 227.4L136.1 227.5L136.5 227.6L136.9 227.7L137.3 227.8L137.8 227.9L138.2 227.9L138.6 227.8L139.1 227.6L139.6 227.3L140.1 227.0L140.5 226.7L140.9 226.4L141.3 226.0L141.8 225.7L142.2 225.4L142.6 225.3L143.0 225.4L143.4 225.7L143.9 226.1L144.3 226.5L144.7 226.8L145.1 227.0L145.6 227.1L146.0 227.1L146.4 227.0L146.8 226.9L147.2 226.8L147.7 226.7L148.1 226.6L148.5 226.5L148.9 226.4L149.4 226.4L149.8 226.3L150.2 226.2L150.6 226.1L151.0 226.0L151.5 225.9L151.9 225.8L152.3 225.7L152.7 225.7L153.2 225.7L153.6 225.8L154.0 225.9L154.4 226.0L154.8 226.1L155.3 226.2L155.7 226.2L156.1 226.2L156.5 226.2L157.0 226.2L157.4 226.2L157.8 226.2L158.2 226.2L158.6 226.2L159.1 226.1L159.5 226.1L159.9 226.1L160.3 226.2L160.8 226.2L161.2 226.3L161.6 226.4L162.0 226.6L162.4 226.7L162.9 227.0L163.3 227.5L163.7 228.2L164.1 228.9L164.6 229.5L165.0 230.0L165.4 230.1L165.8 229.6L166.2 228.8L166.7 227.8L167.1 227.0L167.5 226.5L167.9 226.2L168.4 225.9L168.8 225.7L169.2 225.5L169.6 225.4L170.1 225.3L170.5 225.2L170.9 225.1L171.3 225.0L171.7 224.8L172.2 224.6L172.6 224.4L173.0 224.2L173.4 224.0L173.9 224.0L174.3 224.0L174.7 224.1L175.1 224.2L175.5 224.4L176.0 224.7L176.4 225.0L176.8 225.5L177.3 226.1L177.7 226.8L178.1 227.4L178.6 227.9L179.0 228.1L179.4 228.3L179.8 228.4L180.2 228.5L180.6 228.4L181.0 228.2L181.5 227.8L181.9 227.4L182.3 226.9L182.7 226.5L183.1 226.2L183.6 225.9L184.0 225.8L184.4 225.6L184.8 225.5L185.3 225.4L185.7 225.3L186.1 225.3L186.5 225.3L186.9 225.4L187.4 225.5L187.8 225.6L188.2 225.7L188.6 225.8L189.1 226.0L189.5 226.2L189.9 226.4L190.3 226.6L190.7 226.7L191.2 226.8L191.6 226.9L192.0 227.0L192.4 227.1L192.9 227.1L193.3 227.0L193.7 226.9L194.1 226.7L194.5 226.4L195.0 226.1L195.4 225.9L195.8 225.7L196.2 225.5L196.7 225.4L197.1 225.2L197.5 225.1L197.9 225.0L198.3 225.0L198.8 225.0L199.2 225.0L199.6 225.1L200.0 225.2L200.5 225.2L200.9 225.3L201.3 225.5L201.7 225.6L202.1 225.7L202.6 225.9L203.0 226.1L203.4 226.2L203.8 226.3L204.3 226.4L204.7 226.5L205.1 226.6L205.5 226.7L205.9 226.7L206.4 226.7L206.8 226.6L207.2 226.5L207.6 226.4L208.1 226.3L208.5 226.2L208.9 226.1L209.3 226.0L209.7 225.9L210.2 225.8L210.6 225.7L211.0 225.7L211.4 225.6L211.9 225.6L212.3 225.6L212.7 225.6L213.1 225.6L213.5 225.7L214.0 225.8L214.4 226.0L214.8 226.2L215.2 226.5L215.7 226.8L216.1 227.0L216.5 227.3L216.9 227.7L217.3 228.0L217.8 228.3L218.2 228.6L218.6 228.7L219.0 228.7L219.5 228.7L219.9 228.6L220.3 228.4L220.7 228.1L221.1 227.9L221.6 227.5L222.0 227.1L222.4 226.6L222.8 226.1L223.3 225.7L223.7 225.3L224.1 225.1L224.5 225.0L224.9 224.9L225.4 224.9L225.8 224.9L226.2 225.0L226.6 225.1L227.1 225.4L227.5 225.7L227.9 225.9L228.3 226.1L228.8 226.2L229.2 226.0L229.6 225.7L230.0 225.3L230.4 224.9L230.9 224.6L231.3 224.5L231.7 224.6L232.1 224.8L232.6 225.1L233.0 225.4L233.4 225.6L233.8 225.7L234.2 225.5L234.7 225.1L235.1 224.7L235.5 224.2L235.9 223.9L236.4 223.6L236.8 223.6L237.2 223.7L237.6 223.9L238.0 224.1L238.5 224.3L238.9 224.5L239.3 224.7L239.7 224.9L240.2 225.1L240.6 225.3L241.0 225.5L241.4 225.7L241.8 225.9L242.3 226.1L242.7 226.3L243.1 226.4L243.5 226.6L244.0 226.7L244.5 226.7L245.0 226.7L245.4 226.8L245.8 226.9L246.3 227.0L246.7 227.2L247.1 227.3L247.5 227.4L248.0 227.4L248.4 227.3L248.8 227.3L249.2 227.2L249.6 227.1L250.1 227.0L250.5 226.9L250.9 226.8L251.3 226.6L251.8 226.5L252.2 226.3L252.6 226.2L253.0 226.0L253.4 225.8L253.9 225.7L254.3 225.5L254.7 225.4L255.1 225.3L255.6 225.4L256.0 225.5L256.4 225.7L256.8 225.9L257.2 226.0L257.7 226.2L258.1 226.3L258.5 226.4L258.9 226.4L259.4 226.5L259.8 226.6L260.2 226.7L260.6 226.8L261.0 226.9L261.5 227.0L261.9 227.1L262.3 227.2L262.7 227.4L263.2 227.5L263.6 227.6L264.0 227.8L264.4 228.0L264.8 228.1L265.3 228.4L265.7 228.7L266.1 229.0L266.5 229.3L267.0 229.7L267.4 230.1L267.8 230.4L268.2 230.7L268.6 231.0L269.1 231.3L269.5 231.6L269.9 231.9L270.3 232.1L270.8 232.3L271.2 232.5L271.6 232.7L272.0 232.9L272.4 233.0L272.9 232.9L273.3 232.8L273.7 232.7L274.1 232.4L274.6 232.1L275.0 231.7L275.4 231.2L275.8 230.6L276.2 229.9L276.7 229.1L277.1 228.3L277.5 227.5L277.9 227.0L278.4 226.7L278.8 226.5L279.2 226.5L279.6 226.7L280.1 227.2L280.5 228.0L280.9 228.9L281.3 229.6L281.7 230.1L282.2 230.5L282.6 230.8L283.0 230.7L283.4 230.3L283.9 229.5L284.3 228.6L284.7 227.9L285.1 227.3L285.5 226.8L286.0 226.4L286.4 226.2L286.8 226.1L287.2 226.2L287.7 226.4L288.1 226.7L288.5 226.9L288.9 227.0L289.3 227.1L289.8 227.2L290.2 227.2L290.6 227.3L291.0 227.3L291.5 227.4L291.9 227.5L292.3 227.6L292.7 227.7L293.1 227.8L293.6 227.9L294.0 227.9L294.4 227.8L294.8 227.6L295.3 227.4L295.7 227.2L296.1 227.1L296.5 227.0L296.9 227.1L297.4 227.2L297.8 227.3L298.2 227.5L298.6 227.7L299.1 227.9L299.5 228.0L299.9 228.2L300.3 228.4L300.7 228.6L301.2 228.7L301.6 228.7L302.0 228.6L302.4 228.4L302.9 228.2L303.3 227.9L303.7 227.6L304.1 227.4L304.5 227.1L305.0 226.9L305.4 226.6L305.8 226.4L306.2 226.2L306.7 226.2L307.1 226.3L307.5 226.6L307.9 227.0L308.3 227.4L308.8 227.7L309.2 227.9L309.6 227.9L310.0 227.9L310.5 227.8L310.9 227.7L311.3 227.5L311.7 227.4L312.1 227.1L312.6 226.8L313.0 226.5L313.4 226.2L313.8 225.9L314.3 225.7L314.7 225.5L315.1 225.5L315.5 225.4L315.9 225.4L316.4 225.4L316.8 225.3L317.2 225.3L317.6 225.2L318.1 225.1L318.5 225.0L318.9 225.0L319.3 225.0L319.7 225.1L320.2 225.3L320.6 225.6L321.0 225.8L321.4 226.0L321.9 226.2L322.3 226.2L322.7 226.3L323.1 226.2L323.5 226.2L324.0 226.2L324.4 226.2L324.8 226.2L325.2 226.2L325.7 226.3L326.1 226.4L326.5 226.5L326.9 226.7L327.3 227.0L327.8 227.5L328.2 228.1L328.6 228.6L329.0 228.9L329.5 229.1L329.9 228.9L330.3 228.4L330.7 227.8L331.1 227.2L331.6 226.6L332.0 226.2L332.4 225.9L332.8 225.6L333.3 225.4L333.7 225.3L334.1 225.1L334.5 225.0L334.9 224.9L335.4 224.7L335.8 224.6L336.2 224.6L336.6 224.5L337.1 224.5L337.5 224.5L337.9 224.5L338.3 224.6L338.8 224.7L339.2 224.8L339.6 225.0L340.0 225.3L340.4 225.6L340.9 226.0L341.3 226.3L341.7 226.7L342.1 227.0L342.6 227.3L343.0 227.7L343.4 228.0L343.8 228.2L344.2 228.4L344.7 228.4L345.1 228.2L345.5 227.9L345.9 227.4L346.4 226.9L346.8 226.5L347.2 226.2L347.6 225.9L348.0 225.7L348.5 225.5L348.9 225.4L349.3 225.3L349.7 225.3L350.2 225.4L350.6 225.7L351.0 225.9L351.4 226.2L351.8 226.5L352.3 226.7L352.7 226.8L353.1 226.9L353.2 228.9L353.9 225.3L354.6 230.0L355.3 225.4L356.0 229.5L356.7 224.9L357.4 229.2L358.1 225.9L358.8 228.9L359.5 225.0L360.2 229.3L360.9 225.1L361.6 229.5L362.3 225.3L363.0 229.7L363.7 225.7L364.4 229.3L365.1 225.0L365.8 229.5L366.5 224.9L367.2 229.1L367.9 224.9L368.6 229.8L369.3 225.3L370.0 228.9L370.7 225.8L371.4 229.2L372.1 225.3L372.8 229.8L373.5 225.8L374.2 229.8L374.9 224.9L375.6 229.1L376.3 225.0L377.0 229.0L377.7 225.1L378.4 229.9L379.1 225.8L379.8 230.5L380.5 226.3L381.2 231.6L381.9 228.1L382.6 232.4L383.3 227.9L384.0 231.7L384.7 227.1L385.4 230.9L386.1 226.3L386.8 229.5L387.5 225.5L388.2 229.1L388.9 225.6L389.6 229.0L390.3 225.1L391.0 229.6L391.7 225.7L392.4 229.9L393.1 225.5L393.8 229.3L394.5 225.2L395.2 230.0L395.9 225.8L396.6 230.5L397.3 227.5L398.0 231.6L398.7 228.6L399.4 232.5L400.1 228.0L400.8 231.7L401.5 226.4L402.2 229.7L402.9 226.1L403.6 229.8L404.3 225.5L405.0 229.4L405.7 225.0L406.4 229.3L407.1 225.2L407.8 229.9L408.5 225.6L409.2 229.2L409.9 225.4L410.6 229.9L411.3 225.4L412.0 229.0L412.7 225.2L413.4 229.3L414.1 225.9L414.8 229.8L415.5 225.0L416.2 229.7L416.9 225.5L417.6 229.8L418.3 225.9L419.0 229.1L419.7 225.5L420.4 229.9L421.1 225.2L421.8 229.0L422.5 225.4L423.2 229.4L423.9 225.5L424.6 229.3L425.3 224.9L426.0 229.5L426.7 225.7L427.4 229.4L428.1 224.8L428.8 229.1L429.5 225.8L430.2 229.7L430.9 225.7L431.6 229.3L432.3 225.3L433.0 228.9L433.7 225.2L434.4 229.9L435.1 225.6L435.8 229.5L436.5 225.7L437.2 229.4L437.9 225.1L438.6 229.2L439.3 225.7L440.0 229.0L440.7 225.4L441.4 229.2L442.1 225.3L442.8 229.3L443.5 225.7L444.2 229.6L444.9 225.2L445.6 229.2L446.3 225.0L447.0 229.4L447.7 225.1L448.4 229.2L449.1 225.2L449.8 229.7L450.5 225.2L451.2 229.9L451.9 225.8L452.6 229.3L453.3 226.5L454.0 230.0L454.7 226.4L455.4 230.5L456.1 225.8L456.8 229.4L457.5 226.1L458.2 229.1L458.9 225.3L459.6 229.7L460.3 225.1L461.0 229.1L461.7 225.3L462.4 229.1L463.1 225.6L463.8 229.2L464.5 225.3L465.2 229.7L465.9 225.1L466.6 228.9L467.3 225.4L468.0 229.9L468.7 225.6L469.4 229.6L470.1 225.7L470.8 229.9L471.5 225.6L472.2 229.1L472.9 224.9L473.6 229.8L474.3 226.0L475.0 229.1L475.7 225.8L476.4 229.0L477.1 225.7L477.8 229.4L478.5 225.4L479.2 229.7L479.9 224.9L480.6 229.5L481.3 225.6L482.0 229.9L482.7 225.9L483.4 229.9L484.1 225.2L484.8 229.5L485.5 225.6L486.2 229.6L486.9 225.2L487.6 230.0L488.3 225.1L489.0 229.2L489.7 225.8L490.4 229.0L491.1 225.9L491.8 229.8L492.5 225.7L493.2 229.4L493.9 225.6L494.6 230.0L495.3 224.8L496.0 229.1L496.7 224.9L497.4 229.8L498.1 225.1L498.8 228.9L499.5 225.9L500.2 229.7L500.9 225.2L501.6 229.7L502.3 224.9L503.0 229.8L503.7 225.0L504.4 229.5L505.1 225.4L505.8 229.8L506.5 225.5L507.2 229.9L507.9 225.9L508.6 229.7L509.3 226.0L510.0 229.3L510.7 225.0L511.4 228.9L512.1 225.7L512.8 229.0L513.5 225.1L514.2 229.0L514.9 225.2L515.6 229.0L516.3 224.9L517.0 229.3L517.7 224.8L518.4 229.9L519.1 225.1L519.8 229.6L520.5 225.4L521.2 229.4L521.9 225.8L522.6 229.3L523.3 225.7L524.0 229.6L524.7 224.9L525.4 229.4L526.1 225.7L526.8 229.2L527.5 225.8L528.2 228.9L528.9 225.4L529.6 229.6L530.3 225.1L531.0 229.7L531.7 225.3L532.4 229.7L533.1 225.6L533.8 229.8L534.5 225.8L535.2 229.0L535.9 225.1L536.6 229.7L537.3 225.3L538.0 229.6L538.7 225.3L539.4 229.7L540.1 225.8L540.8 229.3L541.5 225.3L542.2 229.3L542.9 225.5L543.6 228.9L544.3 225.1L545.0 229.4L545.7 225.5L546.4 228.8L547.1 224.9L547.8 229.4L548.5 225.9L549.2 229.8L549.9 225.7L550.6 229.8L551.3 225.5L552.0 229.8L552.7 225.0L553.4 229.5L554.1 225.1L554.8 229.0L555.5 225.1L556.2 229.8L556.9 225.4L557.6 229.9L558.3 225.9L559.0 229.3L559.7 224.9L560.4 229.0L561.1 225.6L561.8 229.2L562.5 225.0L563.2 229.7L563.9 224.9L564.6 229.2L565.3 225.8L566.0 229.6L566.7 225.6L567.4 229.0L568.1 225.8L568.8 229.6L569.5 225.4L570.2 229.5L570.9 225.1L571.6 229.1L572.3 224.9L573.0 229.1L573.7 225.7L574.4 229.3L575.1 225.5L575.8 229.3L576.5 224.9L577.2 229.9L577.9 224.8L578.6 229.6L579.3 225.7L580.0 229.9L580.7 225.2L581.4 229.4L582.1 225.8L582.8 229.6L583.5 226.0L584.2 229.3L584.9 225.7L585.6 229.8L586.3 225.6L587.0 229.2L587.7 225.6L588.4 229.8L589.1 224.9L589.8 229.0L590.5 225.8L591.2 229.4L591.9 225.3L592.6 229.1L593.3 225.1L594.0 228.9L594.7 225.7L595.4 229.0L596.1 225.6L596.8 229.2L597.5 225.7L598.2 230.0L598.9 225.2L599.6 229.1L600.3 224.8L601.0 229.5L601.7 225.8L602.4 229.9L603.1 225.8L603.8 229.6L604.5 225.8L605.2 229.0L605.9 225.7L606.6 229.4L607.3 225.1L608.0 229.4L608.7 225.0L609.4 229.2L610.1 225.3L610.8 229.0L611.5 225.0L612.2 229.0L612.9 225.2L613.6 229.2L614.3 225.9L615.0 229.4L615.7 226.4L616.4 230.2L617.1 226.4L617.8 230.1L618.5 226.2L619.2 231.4L619.9 227.0L620.6 231.2L621.3 227.4L622.0 231.5L622.7 227.0L623.4 230.3L624.1 226.2L624.8 230.8L625.5 226.6L626.2 230.2L626.9 226.0L627.6 230.1L628.3 225.2L629.0 229.3L629.7 225.2L630.4 229.3L631.1 225.5L631.8 229.7L632.5 225.6L633.2 229.9L633.9 225.6L634.6 229.1L635.3 225.9L636.0 229.4L636.7 225.3L637.4 229.5L638.1 224.9L638.8 229.0L639.5 225.2L640.2 229.6L640.9 225.9L641.6 229.1L642.3 225.8L643.0 229.7L643.7 225.4L644.4 229.7L645.1 225.4L645.8 230.0L646.5 225.2L647.2 229.7L647.9 225.0L648.6 229.9L649.3 225.4L650.0 229.8L650.7 224.8L651.4 229.9L652.1 225.4L652.8 229.0L653.5 225.1L654.2 229.3L654.9 225.2L655.6 229.0L656.3 225.3L657.0 229.1L657.7 225.9L658.4 229.8L659.1 225.5L659.8 229.5L660.5 224.8L661.2 229.7L661.9 225.9L662.6 229.2L663.3 225.5L664.0 229.8L664.7 225.7L665.4 228.9L666.1 225.9L666.8 229.2L667.5 225.3L668.2 229.2L668.9 225.2L669.6 229.4L670.3 225.6L671.0 229.4L671.7 225.8L672.4 229.9L673.1 225.0L673.8 229.0L674.5 225.1L675.2 229.0L675.9 225.6L676.6 229.5L677.3 225.0" stroke="#1414e6" stroke-width="1.1"/>
<path d="M30.4 229.6L30.8 228.8L31.3 228.1L31.7 227.3L32.2 226.7L32.6 226.2L33.0 225.9L33.4 225.8L33.9 225.7L34.3 225.7L34.7 225.7L35.1 225.7L35.6 225.6L36.0 225.5L36.4 225.4L36.8 225.4L37.2 225.3L37.7 225.3L38.1 225.4L38.5 225.5L38.9 225.7L39.4 225.9L39.8 226.0L40.2 226.2L40.6 226.3L41.0 226.5L41.5 226.7L41.9 226.8L42.3 227.0L42.7 227.0L43.2 227.0L43.6 227.0L44.0 226.9L44.4 226.9L44.8 226.8L45.3 226.7L45.7 226.6L46.1 226.5L46.5 226.4L47.0 226.3L47.4 226.2L47.8 226.2L48.2 226.2L48.6 226.3L49.1 226.4L49.5 226.5L49.9 226.7L50.3 227.0L50.8 227.5L51.2 228.0L51.6 228.6L52.0 229.2L52.4 229.9L52.9 230.4L53.3 230.9L53.7 231.3L54.1 231.8L54.6 232.2L55.0 232.6L55.4 232.9L55.8 233.3L56.2 233.6L56.7 233.8L57.1 234.1L57.5 234.4L57.9 234.6L58.4 234.9L58.8 235.3L59.2 235.6L59.6 235.9L60.1 236.2L60.5 236.3L60.9 236.3L61.3 236.3L61.7 236.2L62.2 236.0L62.6 235.7L63.0 235.5L63.4 235.1L63.9 234.8L64.3 234.3L64.7 233.8L65.1 233.4L65.5 232.9L66.0 232.5L66.4 232.0L66.8 231.6L67.2 231.2L67.7 230.8L68.1 230.4L68.5 230.1L68.9 229.8L69.3 229.7L69.8 229.6L70.2 229.6L70.6 229.7L71.0 229.8L71.5 230.0L71.9 230.2L72.3 230.4L72.7 230.6L73.1 230.9L73.6 231.2L74.0 231.5L74.4 231.8L74.8 232.1L75.3 232.4L75.7 232.7L76.1 233.0L76.5 233.3L76.9 233.6L77.4 233.8L77.8 234.0L78.2 234.1L78.6 234.2L79.1 234.3L79.5 234.3L79.9 234.3L80.3 234.2L80.7 234.1L81.2 233.9L81.6 233.8L82.0 233.6L82.4 233.4L82.9 233.3L83.3 233.3L83.7 233.2L84.1 233.1L84.5 233.1L85.0 232.9L85.4 232.8L85.8 232.6L86.2 232.4L86.7 232.2L87.1 232.0L87.5 231.8L87.9 231.6L88.3 231.4L88.8 231.3L89.2 231.1L89.6 231.0L90.0 230.7L90.5 230.5L90.9 230.1L91.3 229.8L91.7 229.4L92.1 229.0L92.6 228.7L93.0 228.4L93.4 228.1L93.8 227.8L94.3 227.5L94.7 227.3L95.1 227.0L95.5 226.8L95.9 226.6L96.4 226.4L96.8 226.3L97.2 226.2L97.6 226.2L98.1 226.2L98.5 226.4L98.9 226.5L99.3 226.7L99.7 226.9L100.2 227.0L100.6 227.1L101.0 227.2L101.4 227.3L101.9 227.3L102.3 227.4L102.7 227.4L103.1 227.3L103.5 227.2L104.0 227.1L104.4 227.0L104.8 226.8L105.2 226.7L105.7 226.5L106.1 226.3L106.5 226.0L106.9 225.8L107.3 225.7L107.8 225.7L108.2 225.9L108.6 226.3L109.0 226.9L109.5 227.4L109.9 227.7L110.3 227.9L110.7 227.7L111.1 227.2L111.6 226.7L112.0 226.2L112.4 225.7L112.8 225.3L113.3 224.8L113.7 224.5L114.1 224.3L114.5 224.1L114.9 224.0L115.4 223.9L115.8 223.8L116.2 223.6L116.6 223.4L117.1 223.1L117.5 222.9L117.9 222.6L118.3 222.3L118.8 222.0L119.2 221.6L119.6 221.3L120.0 220.9L120.4 220.6L120.9 220.4L121.3 220.3L121.7 220.3L122.1 220.5L122.6 220.7L123.0 221.0L123.4 221.3L123.8 221.6L124.2 221.9L124.7 222.1L125.1 222.4L125.5 222.7L125.9 223.0L126.4 223.3L126.8 223.6L127.2 224.0L127.6 224.3L128.0 224.7L128.5 225.0L128.9 225.3L129.3 225.6L129.7 225.9L130.2 226.1L130.6 226.3L131.0 226.5L131.4 226.7L131.8 226.8L132.3 226.9L132.7 226.9L133.1 226.9L133.5 227.0L134.0 227.0L134.4 227.1L134.8 227.2L135.2 227.4L135.6 227.5L136.1 227.7L136.5 227.9L136.9 228.1L137.3 228.5L137.8 228.9L138.2 229.2L138.6 229.5L139.0 229.6L139.5 229.5L139.9 229.2L140.4 228.9L140.8 228.5L141.3 228.2L141.8 227.9L142.2 227.6L142.6 227.4L143.0 227.2L143.4 227.0L143.9 226.8L144.3 226.7L144.7 226.7L145.1 226.7L145.6 226.8L146.0 226.9L146.4 227.0L146.8 227.0L147.2 227.0L147.7 227.0L148.1 226.9L148.5 226.9L148.9 226.8L149.4 226.7L149.8 226.5L150.2 226.3L150.6 226.1L151.0 225.9L151.5 225.8L151.9 225.7L152.3 225.7L152.7 225.7L153.2 225.8L153.6 226.0L154.0 226.1L154.4 226.2L154.8 226.3L155.3 226.4L155.7 226.5L156.1 226.6L156.5 226.7L157.0 226.7L157.4 226.7L157.8 226.6L158.2 226.5L158.6 226.4L159.1 226.2L159.5 226.2L159.9 226.1L160.3 226.1L160.8 226.1L161.2 226.1L161.6 226.1L162.0 226.2L162.4 226.3L162.9 226.4L163.3 226.5L163.7 226.7L164.1 226.9L164.6 227.0L165.0 227.3L165.4 227.7L165.8 228.0L166.2 227.9L166.7 227.2L167.1 226.1L167.5 225.1L167.9 224.5L168.4 224.6L168.8 225.2L169.2 225.8L169.6 226.2L170.1 226.2L170.5 226.1L170.9 225.8L171.3 225.3L171.7 224.7L172.2 223.8L172.6 222.8L173.0 222.0L173.4 221.2L173.9 220.4L174.3 219.6L174.7 218.9L175.1 218.3L175.5 217.7L176.0 217.2L176.4 216.9L176.8 216.9L177.2 217.1L177.7 217.4L178.1 217.7L178.5 218.2L178.9 218.9L179.3 219.5L179.8 219.9L180.2 220.1L180.6 220.2L181.0 220.2L181.5 220.3L181.9 220.4L182.3 220.6L182.7 220.8L183.1 221.1L183.6 221.5L184.0 221.9L184.4 222.3L184.8 222.8L185.3 223.4L185.7 224.1L186.1 224.8L186.5 225.3L186.9 225.6L187.4 225.8L187.8 225.9L188.2 226.0L188.6 226.1L189.1 226.2L189.5 226.3L189.9 226.5L190.3 226.7L190.7 226.8L191.2 227.0L191.6 227.0L192.0 227.1L192.4 227.1L192.9 227.0L193.3 226.9L193.7 226.8L194.1 226.7L194.5 226.5L195.0 226.2L195.4 225.9L195.8 225.6L196.2 225.3L196.7 225.0L197.1 224.8L197.5 224.5L197.9 224.3L198.3 224.1L198.8 224.0L199.2 224.0L199.6 224.1L200.0 224.3L200.5 224.5L200.9 224.8L201.3 225.1L201.7 225.3L202.1 225.5L202.6 225.7L203.0 225.8L203.4 225.9L203.8 226.1L204.3 226.2L204.7 226.3L205.1 226.4L205.5 226.5L205.9 226.6L206.4 226.6L206.8 226.7L207.2 226.7L207.6 226.7L208.1 226.8L208.5 226.7L208.9 226.7L209.3 226.7L209.7 226.6L210.2 226.5L210.6 226.4L211.0 226.3L211.4 226.2L211.9 226.2L212.3 226.2L212.7 226.3L213.1 226.4L213.5 226.5L214.0 226.6L214.4 226.7L214.8 226.8L215.2 226.8L215.7 226.9L216.1 227.0L216.5 227.2L216.9 227.4L217.3 227.7L217.8 228.0L218.2 228.4L218.6 228.9L219.0 229.2L219.5 229.6L219.9 229.9L220.3 230.4L220.7 230.7L221.1 230.8L221.5 230.4L221.9 228.9L222.4 226.8L222.8 225.3L223.3 224.9L223.7 224.8L224.1 225.0L224.5 225.4L224.9 225.6L225.4 225.7L225.8 225.5L226.2 225.2L226.6 224.8L227.1 224.4L227.5 224.0L227.9 223.6L228.3 223.3L228.8 222.9L229.2 222.5L229.6 222.2L230.0 221.9L230.4 221.6L230.9 221.4L231.3 221.3L231.7 221.2L232.1 221.1L232.6 221.1L233.0 221.1L233.4 221.2L233.8 221.4L234.2 221.6L234.7 221.8L235.1 222.1L235.5 222.3L235.9 222.5L236.4 222.7L236.8 222.9L237.2 223.2L237.6 223.4L238.0 223.6L238.5 223.9L238.9 224.2L239.3 224.5L239.7 224.8L240.2 225.1L240.6 225.3L241.0 225.6L241.4 225.8L241.8 226.1L242.3 226.3L242.7 226.5L243.1 226.7L243.6 226.8L244.1 226.8L244.5 226.8L245.0 227.0L245.4 227.4L245.8 227.8L246.3 228.3L246.7 228.8L247.1 229.2L247.5 229.6L248.0 229.8L248.4 230.0L248.8 230.2L249.2 230.2L249.6 230.2L250.1 230.1L250.5 229.7L250.9 229.3L251.3 228.7L251.8 228.0L252.2 227.5L252.6 227.0L253.0 226.7L253.4 226.4L253.9 226.1L254.3 225.9L254.7 225.8L255.1 225.7L255.6 225.6L256.0 225.7L256.4 225.8L256.8 225.9L257.2 226.0L257.7 226.2L258.1 226.3L258.5 226.5L258.9 226.7L259.4 226.9L259.8 227.1L260.2 227.4L260.6 227.6L261.0 227.9L261.5 228.1L261.9 228.4L262.3 228.7L262.7 229.1L263.2 229.4L263.6 229.7L264.0 230.1L264.4 230.5L264.8 230.9L265.3 231.2L265.7 231.7L266.1 232.1L266.5 232.5L267.0 232.9L267.4 233.4L267.8 233.8L268.2 234.2L268.6 234.6L269.1 235.0L269.5 235.4L269.9 235.8L270.3 236.3L270.8 236.9L271.2 237.5L271.6 238.1L272.0 238.7L272.4 239.3L272.9 239.7L273.3 240.0L273.7 240.2L274.1 240.3L274.6 240.2L275.0 239.9L275.4 239.3L275.8 238.7L276.2 238.0L276.7 237.2L277.1 236.3L277.5 235.3L277.9 234.6L278.4 234.2L278.8 233.8L279.2 233.6L279.6 233.4L280.1 233.2L280.5 232.9L280.9 232.7L281.3 232.5L281.7 232.3L282.2 232.1L282.6 231.7L283.0 231.2L283.4 230.5L283.9 229.6L284.3 228.6L284.7 227.9L285.1 227.4L285.5 227.0L286.0 226.8L286.4 226.7L286.8 226.7L287.2 226.9L287.7 227.1L288.1 227.4L288.5 227.6L288.9 227.9L289.3 228.1L289.8 228.3L290.2 228.5L290.6 228.7L291.0 228.9L291.5 229.1L291.9 229.2L292.3 229.4L292.7 229.6L293.1 229.8L293.6 229.9L294.0 230.1L294.4 230.2L294.8 230.3L295.3 230.3L295.7 230.4L296.1 230.4L296.5 230.4L296.9 230.4L297.4 230.3L297.8 230.2L298.2 230.1L298.6 230.1L299.1 230.1L299.5 230.1L299.9 230.2L300.3 230.4L300.7 230.5L301.2 230.6L301.6 230.7L302.0 230.9L302.4 231.0L302.9 231.1L303.3 231.2L303.7 231.3L304.1 231.2L304.5 231.1L305.0 231.0L305.4 230.8L305.8 230.5L306.2 230.3L306.7 230.1L307.1 229.9L307.5 229.7L307.9 229.6L308.3 229.4L308.8 229.2L309.2 229.1L309.6 228.9L310.0 228.7L310.5 228.5L310.9 228.3L311.3 228.1L311.7 227.9L312.1 227.6L312.6 227.3L313.0 227.0L313.4 226.7L313.8 226.4L314.3 226.2L314.7 226.0L315.1 225.8L315.5 225.6L315.9 225.5L316.4 225.4L316.8 225.3L317.2 225.4L317.6 225.5L318.1 225.7L318.5 225.9L318.9 226.1L319.3 226.2L319.7 226.2L320.2 226.1L320.6 226.0L321.0 225.8L321.4 225.7L321.9 225.7L322.3 225.7L322.7 225.8L323.1 225.8L323.5 226.0L324.0 226.1L324.4 226.2L324.8 226.3L325.2 226.4L325.7 226.5L326.1 226.6L326.5 226.8L326.9 227.0L327.3 227.4L327.8 227.9L328.2 228.4L328.6 228.8L329.0 229.1L329.5 229.1L329.9 228.6L330.3 227.8L330.7 226.8L331.1 225.9L331.5 225.3L331.9 225.0L332.4 225.0L332.8 225.0L333.2 225.1L333.7 225.0L334.1 224.8L334.5 224.6L334.9 224.4L335.4 224.2L335.8 223.9L336.2 223.6L336.6 223.4L337.1 223.1L337.5 222.8L337.9 222.6L338.3 222.3L338.8 222.0L339.2 221.6L339.6 221.2L340.0 220.8L340.4 220.6L340.9 220.6L341.3 220.8L341.7 221.1L342.1 221.4L342.6 221.7L343.0 222.0L343.4 222.2L343.8 222.4L344.2 222.6L344.7 222.8L345.1 223.0L345.5 223.3L345.9 223.6L346.4 224.0L346.8 224.3L347.2 224.7L347.6 225.0L348.0 225.3L348.5 225.6L348.9 225.9L349.3 226.1L349.7 226.3L350.2 226.5L350.6 226.7L351.0 226.8L351.4 226.9L351.8 226.9L352.3 227.0L352.7 227.0L353.1 227.0L353.2 235.7L353.9 223.5L354.6 235.2L355.3 222.6L356.0 235.1L356.7 222.0L357.4 232.8L358.1 221.0L358.8 235.1L359.5 221.5L360.2 232.6L360.9 222.6L361.6 233.1L362.3 221.9L363.0 234.4L363.7 219.7L364.4 232.7L365.1 221.8L365.8 231.5L366.5 220.2L367.2 230.8L367.9 221.1L368.6 231.3L369.3 221.4L370.0 233.9L370.7 221.6L371.4 231.1L372.1 220.5L372.8 231.2L373.5 221.3L374.2 233.7L374.9 222.4L375.6 233.7L376.3 223.3L377.0 233.9L377.7 220.8L378.4 233.3L379.1 220.2L379.8 234.1L380.5 222.5L381.2 233.6L381.9 221.6L382.6 232.2L383.3 223.1L384.0 234.5L384.7 221.2L385.4 231.9L386.1 220.5L386.8 231.1L387.5 219.6L388.2 233.0L388.9 221.1L389.6 232.5L390.3 220.3L391.0 229.0L391.7 219.9L392.4 231.0L393.1 218.4L393.8 228.5L394.5 218.9L395.2 230.9L395.9 217.6L396.6 228.9L397.3 218.8L398.0 231.6L398.7 219.0L399.4 232.4L400.1 218.7L400.8 233.0L401.5 219.1L402.2 233.1L402.9 220.0L403.6 231.9L404.3 220.6L405.0 233.9L405.7 219.8L406.4 233.6L407.1 221.0L407.8 233.1L408.5 219.0L409.2 232.3L409.9 219.9L410.6 233.6L411.3 217.9L412.0 233.6L412.7 217.8L413.4 233.0L414.1 217.4L414.8 232.6L415.5 219.5L416.2 230.0L416.9 219.1L417.6 229.9L418.3 218.0L419.0 232.7L419.7 219.2L420.4 231.1L421.1 217.0L421.8 230.2L422.5 220.1L423.2 230.9L423.9 216.7L424.6 230.1L425.3 219.7L426.0 230.9L426.7 218.8L427.4 229.9L428.1 218.7L428.8 230.8L429.5 220.2L430.2 230.2L430.9 217.5L431.6 232.2L432.3 219.3L433.0 229.8L433.7 219.3L434.4 231.4L435.1 219.2L435.8 230.7L436.5 220.2L437.2 230.7L437.9 222.5L438.6 232.8L439.3 221.1L440.0 231.2L440.7 219.6L441.4 232.3L442.1 218.3L442.8 230.9L443.5 217.7L444.2 231.1L444.9 217.3L445.6 227.8L446.3 218.1L447.0 227.3L447.7 215.4L448.4 229.8L449.1 217.5L449.8 228.1L450.5 216.7L451.2 228.9L451.9 213.7L452.6 230.3L453.3 213.7L454.0 228.3L454.7 213.6L455.4 226.8L456.1 214.5L456.8 228.0L457.5 213.6L458.2 227.9L458.9 215.7L459.6 229.1L460.3 215.3L461.0 229.5L461.7 217.1L462.4 230.9L463.1 220.1L463.8 229.9L464.5 220.9L465.2 231.5L465.9 223.9L466.6 231.8L467.3 223.8L468.0 232.6L468.7 221.8L469.4 234.6L470.1 223.3L470.8 235.3L471.5 224.5L472.2 232.8L472.9 222.4L473.6 231.3L474.3 222.1L475.0 233.8L475.7 222.1L476.4 232.2L477.1 222.5L477.8 233.4L478.5 222.3L479.2 234.6L479.9 222.4L480.6 235.1L481.3 222.3L482.0 232.9L482.7 222.3L483.4 236.0L484.1 224.8L484.8 233.8L485.5 222.5L486.2 235.5L486.9 225.9L487.6 236.4L488.3 227.0L489.0 236.3L489.7 228.4L490.4 239.1L491.1 227.4L491.8 241.1L492.5 231.2L493.2 243.3L493.9 229.6L494.6 243.6L495.3 232.2L496.0 244.5L496.7 230.6L497.4 240.6L498.1 229.0L498.8 241.2L499.5 227.6L500.2 240.7L500.9 229.0L501.6 238.3L502.3 229.1L503.0 237.1L503.7 227.1L504.4 235.9L505.1 227.7L505.8 234.7L506.5 225.0L507.2 237.1L507.9 223.4L508.6 235.7L509.3 224.0L510.0 236.1L510.7 223.8L511.4 233.8L512.1 222.5L512.8 232.8L513.5 222.0L514.2 233.2L514.9 222.6L515.6 235.1L516.3 224.9L517.0 233.9L517.7 226.7L518.4 234.9L519.1 224.9L519.8 235.3L520.5 226.3L521.2 236.1L521.9 225.5L522.6 239.0L523.3 227.6L524.0 238.0L524.7 226.6L525.4 237.9L526.1 224.9L526.8 235.8L527.5 227.0L528.2 236.7L528.9 224.7L529.6 237.7L530.3 224.8L531.0 235.1L531.7 225.8L532.4 235.4L533.1 225.2L533.8 235.4L534.5 221.9L535.2 233.0L535.9 222.3L536.6 234.2L537.3 222.5L538.0 234.9L538.7 221.6L539.4 233.2L540.1 221.6L540.8 232.9L541.5 222.1L542.2 232.7L542.9 222.1L543.6 234.8L544.3 223.5L545.0 232.9L545.7 221.7L546.4 232.6L547.1 221.0L547.8 233.0L548.5 223.1L549.2 235.3L549.9 223.4L550.6 234.4L551.3 222.0L552.0 232.3L552.7 219.8L553.4 231.3L554.1 218.7L554.8 232.1L555.5 221.3L556.2 229.7L556.9 218.1L557.6 231.8L558.3 217.3L559.0 229.7L559.7 217.8L560.4 229.7L561.1 217.6L561.8 228.8L562.5 216.6L563.2 227.2L563.9 216.8L564.6 229.8L565.3 215.9L566.0 228.3L566.7 216.7L567.4 227.7L568.1 217.9L568.8 229.3L569.5 217.5L570.2 229.9L570.9 220.5L571.6 230.2L572.3 220.6L573.0 231.0L573.7 222.4L574.4 232.2L575.1 220.9L575.8 233.4L576.5 221.6L577.2 234.0L577.9 224.1L578.6 235.0L579.3 224.3L580.0 234.3L580.7 224.5L581.4 235.0L582.1 224.2L582.8 233.8L583.5 222.1L584.2 234.5L584.9 222.9L585.6 232.0L586.3 220.5L587.0 231.6L587.7 221.1L588.4 233.2L589.1 219.0L589.8 232.2L590.5 221.1L591.2 230.7L591.9 218.4L592.6 231.6L593.3 218.1L594.0 231.5L594.7 218.3L595.4 233.6L596.1 219.6L596.8 233.7L597.5 221.7L598.2 233.4L598.9 219.7L599.6 231.5L600.3 221.7L601.0 230.4L601.7 220.5L602.4 231.4L603.1 220.6L603.8 231.7L604.5 219.5L605.2 232.1L605.9 220.3L606.6 230.3L607.3 218.5L608.0 231.2L608.7 219.9L609.4 227.7L610.1 219.0L610.8 229.8L611.5 217.6L612.2 228.3L612.9 215.1L613.6 226.3L614.3 214.1L615.0 224.2L615.7 213.8L616.4 224.5L617.1 211.8L617.8 225.5L618.5 211.4L619.2 225.3L619.9 209.3L620.6 225.0L621.3 212.4L622.0 222.2L622.7 212.0L623.4 224.0L624.1 211.0L624.8 225.5L625.5 213.8L626.2 226.5L626.9 215.0L627.6 225.4L628.3 216.0L629.0 227.0L629.7 216.7L630.4 229.4L631.1 216.9L631.8 229.9L632.5 218.2L633.2 228.2L633.9 217.2L634.6 227.3L635.3 216.5L636.0 229.4L636.7 217.6L637.4 227.9L638.1 219.0L638.8 227.1L639.5 217.3L640.2 229.6L640.9 216.7L641.6 227.2L642.3 217.5L643.0 229.1L643.7 219.4L644.4 230.3L645.1 218.4L645.8 228.2L646.5 216.9L647.2 228.3L647.9 217.7L648.6 228.8L649.3 217.5L650.0 229.9L650.7 218.5L651.4 228.5L652.1 218.3L652.8 231.9L653.5 220.1L654.2 232.2L654.9 218.3L655.6 230.0L656.3 221.9L657.0 231.4L657.7 221.1L658.4 234.0L659.1 221.2L659.8 232.6L660.5 222.4L661.2 235.6L661.9 221.2L662.6 233.3L663.3 223.9L664.0 236.0L664.7 219.9L665.4 232.2L666.1 221.5L666.8 232.4L667.5 219.1L668.2 231.7L668.9 218.1L669.6 231.2L670.3 218.3L671.0 227.9L671.7 217.1L672.4 229.9L673.1 215.6L673.8 227.9L674.5 217.1L675.2 229.4L675.9 217.5L676.6 226.9L677.3 216.6" stroke="#0a800a" stroke-width="1.2"/>
</g>
<path d="M30.2 181.8h6M677.7 181.8h-6M30.2 196.8h6M677.7 196.8h-6M30.2 211.8h6M677.7 211.8h-6M30.2 226.9h6M677.7 226.9h-6M30.2 241.9h6M677.7 241.9h-6M95.0 166.8v6M95.0 256.9v-6M159.7 166.8v6M159.7 256.9v-6M224.4 166.8v6M224.4 256.9v-6M289.2 166.8v6M289.2 256.9v-6M353.9 166.8v6M353.9 256.9v-6M418.7 166.8v6M418.7 256.9v-6M483.4 166.8v6M483.4 256.9v-6M548.2 166.8v6M548.2 256.9v-6M613.0 166.8v6M613.0 256.9v-6" stroke="#7c7c7c" stroke-width="0.9" fill="none"/>
<rect x="30.2" y="166.8" width="647.5" height="90.1" fill="none" stroke="#8e8e8e" stroke-width="1.45"/>
<text x="25.9" y="170.1" font-size="10" text-anchor="end">4</text>
<text x="25.9" y="200.1" font-size="10" text-anchor="end">2</text>
<text x="25.9" y="230.2" font-size="10" text-anchor="end">0</text>
<text x="25.9" y="260.2" font-size="10" text-anchor="end">-2</text>
<text x="30.5" y="269.0" font-size="10" text-anchor="middle">0</text>
<text x="95.2" y="269.0" font-size="10" text-anchor="middle">1</text>
<text x="160.0" y="269.0" font-size="10" text-anchor="middle">2</text>
<text x="224.8" y="269.0" font-size="10" text-anchor="middle">3</text>
<text x="289.5" y="269.0" font-size="10" text-anchor="middle">4</text>
<text x="354.2" y="269.0" font-size="10" text-anchor="middle">5</text>
<text x="419.0" y="269.0" font-size="10" text-anchor="middle">6</text>
<text x="483.8" y="269.0" font-size="10" text-anchor="middle">7</text>
<text x="548.5" y="269.0" font-size="10" text-anchor="middle">8</text>
<text x="613.2" y="269.0" font-size="10" text-anchor="middle">9</text>
<text x="678.0" y="269.0" font-size="10" text-anchor="middle">10</text>
<text x="353.6" y="278.1" font-size="12.3" text-anchor="middle">Time [s]</text>
<text transform="translate(12.4 213.2) rotate(-90)" font-size="12.2" text-anchor="middle">Voltage [mV]</text>
<rect x="580.3" y="168.4" width="95.6" height="31.6" fill="#fff" stroke="#3c3c3c" stroke-width="1.2"/>
<path d="M587.8 178.9h20" stroke="#1414e6" stroke-width="1.7"/>
<path d="M587.8 191.3h20" stroke="#0a800a" stroke-width="1.7"/>
<text x="667.7" y="182.9" font-size="12.3" text-anchor="end">1st Lead</text>
<text x="667.7" y="197.1" font-size="12.3" text-anchor="end">2nd Lead</text>
<text x="354.2" y="139.5" font-size="22" text-anchor="middle">(a) ECG signal (normal amp.)</text>
<text x="354.0" y="299.5" font-size="22" text-anchor="middle">(b) ECG signal (low amp.)</text>
</svg>
</body></html>
